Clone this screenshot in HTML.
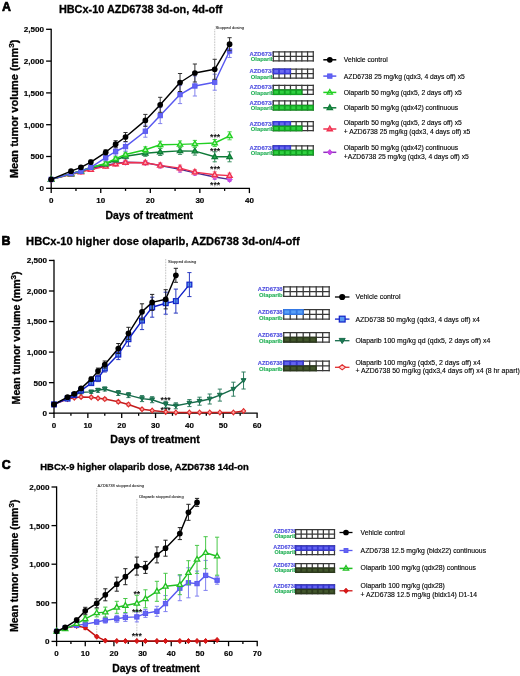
<!DOCTYPE html>
<html lang="en"><head><meta charset="utf-8"><title>Figure</title>
<style>html,body{margin:0;padding:0;background:#fff;}svg{display:block;filter:blur(0.4px);}text{font-family:'Liberation Sans', Arial, sans-serif;}</style>
</head><body>
<svg width="520" height="676" viewBox="0 0 520 676">
<rect width="520" height="676" fill="#fff"/>
<g id="panelA">
<text x="2" y="11.2" font-size="12.4" font-weight="bold" text-anchor="start" fill="#000" stroke="#000" stroke-width="0.7" stroke-linejoin="round" >A</text>
<text x="58.9" y="12.5" font-size="10.9" font-weight="bold" text-anchor="start" fill="#000" stroke="#000" stroke-width="0.3" stroke-linejoin="round" >HBCx-10 AZD6738 3d-on, 4d-off</text>
<line x1="51.2" y1="28.7" x2="51.2" y2="188.9" stroke="#000" stroke-width="1.3" />
<line x1="50.6" y1="188.3" x2="250" y2="188.3" stroke="#000" stroke-width="1.3" />
<line x1="51.2" y1="188.3" x2="51.2" y2="193.1" stroke="#000" stroke-width="1.3" />
<text x="51.2" y="203" font-size="8" font-weight="bold" text-anchor="middle" fill="#000" stroke="#000" stroke-width="0.15" stroke-linejoin="round" >0</text>
<line x1="100.75" y1="188.3" x2="100.75" y2="193.1" stroke="#000" stroke-width="1.3" />
<text x="100.75" y="203" font-size="8" font-weight="bold" text-anchor="middle" fill="#000" stroke="#000" stroke-width="0.15" stroke-linejoin="round" >10</text>
<line x1="150.3" y1="188.3" x2="150.3" y2="193.1" stroke="#000" stroke-width="1.3" />
<text x="150.3" y="203" font-size="8" font-weight="bold" text-anchor="middle" fill="#000" stroke="#000" stroke-width="0.15" stroke-linejoin="round" >20</text>
<line x1="199.85" y1="188.3" x2="199.85" y2="193.1" stroke="#000" stroke-width="1.3" />
<text x="199.85" y="203" font-size="8" font-weight="bold" text-anchor="middle" fill="#000" stroke="#000" stroke-width="0.15" stroke-linejoin="round" >30</text>
<line x1="249.4" y1="188.3" x2="249.4" y2="193.1" stroke="#000" stroke-width="1.3" />
<text x="249.4" y="203" font-size="8" font-weight="bold" text-anchor="middle" fill="#000" stroke="#000" stroke-width="0.15" stroke-linejoin="round" >40</text>
<line x1="75.97" y1="188.3" x2="75.97" y2="190.9" stroke="#000" stroke-width="1.3" />
<line x1="125.53" y1="188.3" x2="125.53" y2="190.9" stroke="#000" stroke-width="1.3" />
<line x1="175.07" y1="188.3" x2="175.07" y2="190.9" stroke="#000" stroke-width="1.3" />
<line x1="224.62" y1="188.3" x2="224.62" y2="190.9" stroke="#000" stroke-width="1.3" />
<line x1="46.1" y1="188.3" x2="51.2" y2="188.3" stroke="#000" stroke-width="1.3" />
<text x="44.1" y="191.2" font-size="8.1" font-weight="bold" text-anchor="end" fill="#000" stroke="#000" stroke-width="0.15" stroke-linejoin="round" >0</text>
<line x1="46.1" y1="156.5" x2="51.2" y2="156.5" stroke="#000" stroke-width="1.3" />
<text x="44.1" y="159.4" font-size="8.1" font-weight="bold" text-anchor="end" fill="#000" stroke="#000" stroke-width="0.15" stroke-linejoin="round" >500</text>
<line x1="46.1" y1="124.7" x2="51.2" y2="124.7" stroke="#000" stroke-width="1.3" />
<text x="44.1" y="127.6" font-size="8.1" font-weight="bold" text-anchor="end" fill="#000" stroke="#000" stroke-width="0.15" stroke-linejoin="round" >1,000</text>
<line x1="46.1" y1="92.9" x2="51.2" y2="92.9" stroke="#000" stroke-width="1.3" />
<text x="44.1" y="95.8" font-size="8.1" font-weight="bold" text-anchor="end" fill="#000" stroke="#000" stroke-width="0.15" stroke-linejoin="round" >1,500</text>
<line x1="46.1" y1="61.1" x2="51.2" y2="61.1" stroke="#000" stroke-width="1.3" />
<text x="44.1" y="64" font-size="8.1" font-weight="bold" text-anchor="end" fill="#000" stroke="#000" stroke-width="0.15" stroke-linejoin="round" >2,000</text>
<line x1="46.1" y1="29.3" x2="51.2" y2="29.3" stroke="#000" stroke-width="1.3" />
<text x="44.1" y="32.2" font-size="8.1" font-weight="bold" text-anchor="end" fill="#000" stroke="#000" stroke-width="0.15" stroke-linejoin="round" >2,500</text>
<text x="149.3" y="218.9" font-size="10.36" font-weight="bold" text-anchor="middle" fill="#000" stroke="#000" stroke-width="0.3" stroke-linejoin="round" >Days of treatment</text>
<text x="18.2" y="108.8" font-size="10.4" font-weight="bold" text-anchor="middle" fill="#000" textLength="138.5" lengthAdjust="spacingAndGlyphs" transform="rotate(-90 18.2 108.8)" stroke="#000" stroke-width="0.3" stroke-linejoin="round" >Mean tumor volume (mm<tspan dy="-4.6" font-size="7.8">3</tspan><tspan dy="4.6">)</tspan></text>
<line x1="214.72" y1="29.5" x2="214.72" y2="188.3" stroke="#707070" stroke-width="0.6" stroke-dasharray="0.7 0.9"/>
<text x="215.6" y="28.6" font-size="4.3" font-weight="normal" text-anchor="start" fill="#333" textLength="28.4" lengthAdjust="spacingAndGlyphs" stroke="#333" stroke-width="0.12" stroke-linejoin="round" >Stopped dosing</text>
<line x1="71.02" y1="173" x2="71.02" y2="175" stroke="#d090e8" stroke-width="1" />
<line x1="68.92" y1="173" x2="73.12" y2="173" stroke="#d090e8" stroke-width="1" />
<line x1="68.92" y1="175" x2="73.12" y2="175" stroke="#d090e8" stroke-width="1" />
<line x1="80.93" y1="170.5" x2="80.93" y2="172.5" stroke="#d090e8" stroke-width="1" />
<line x1="78.83" y1="170.5" x2="83.03" y2="170.5" stroke="#d090e8" stroke-width="1" />
<line x1="78.83" y1="172.5" x2="83.03" y2="172.5" stroke="#d090e8" stroke-width="1" />
<line x1="90.84" y1="167" x2="90.84" y2="170" stroke="#d090e8" stroke-width="1" />
<line x1="88.74" y1="167" x2="92.94" y2="167" stroke="#d090e8" stroke-width="1" />
<line x1="88.74" y1="170" x2="92.94" y2="170" stroke="#d090e8" stroke-width="1" />
<line x1="105.71" y1="164" x2="105.71" y2="167" stroke="#d090e8" stroke-width="1" />
<line x1="103.61" y1="164" x2="107.81" y2="164" stroke="#d090e8" stroke-width="1" />
<line x1="103.61" y1="167" x2="107.81" y2="167" stroke="#d090e8" stroke-width="1" />
<line x1="115.62" y1="161.5" x2="115.62" y2="165.5" stroke="#d090e8" stroke-width="1" />
<line x1="113.52" y1="161.5" x2="117.72" y2="161.5" stroke="#d090e8" stroke-width="1" />
<line x1="113.52" y1="165.5" x2="117.72" y2="165.5" stroke="#d090e8" stroke-width="1" />
<line x1="125.53" y1="160.3" x2="125.53" y2="164.3" stroke="#d090e8" stroke-width="1" />
<line x1="123.43" y1="160.3" x2="127.62" y2="160.3" stroke="#d090e8" stroke-width="1" />
<line x1="123.43" y1="164.3" x2="127.62" y2="164.3" stroke="#d090e8" stroke-width="1" />
<line x1="145.34" y1="160.7" x2="145.34" y2="164.7" stroke="#d090e8" stroke-width="1" />
<line x1="143.25" y1="160.7" x2="147.44" y2="160.7" stroke="#d090e8" stroke-width="1" />
<line x1="143.25" y1="164.7" x2="147.44" y2="164.7" stroke="#d090e8" stroke-width="1" />
<line x1="160.21" y1="163.1" x2="160.21" y2="168.1" stroke="#d090e8" stroke-width="1" />
<line x1="158.11" y1="163.1" x2="162.31" y2="163.1" stroke="#d090e8" stroke-width="1" />
<line x1="158.11" y1="168.1" x2="162.31" y2="168.1" stroke="#d090e8" stroke-width="1" />
<line x1="180.03" y1="166.4" x2="180.03" y2="172.4" stroke="#d090e8" stroke-width="1" />
<line x1="177.93" y1="166.4" x2="182.13" y2="166.4" stroke="#d090e8" stroke-width="1" />
<line x1="177.93" y1="172.4" x2="182.13" y2="172.4" stroke="#d090e8" stroke-width="1" />
<line x1="194.89" y1="170.4" x2="194.89" y2="175.4" stroke="#d090e8" stroke-width="1" />
<line x1="192.79" y1="170.4" x2="196.99" y2="170.4" stroke="#d090e8" stroke-width="1" />
<line x1="192.79" y1="175.4" x2="196.99" y2="175.4" stroke="#d090e8" stroke-width="1" />
<line x1="214.72" y1="174.5" x2="214.72" y2="179.5" stroke="#d090e8" stroke-width="1" />
<line x1="212.62" y1="174.5" x2="216.82" y2="174.5" stroke="#d090e8" stroke-width="1" />
<line x1="212.62" y1="179.5" x2="216.82" y2="179.5" stroke="#d090e8" stroke-width="1" />
<line x1="229.58" y1="177.4" x2="229.58" y2="181.4" stroke="#d090e8" stroke-width="1" />
<line x1="227.48" y1="177.4" x2="231.68" y2="177.4" stroke="#d090e8" stroke-width="1" />
<line x1="227.48" y1="181.4" x2="231.68" y2="181.4" stroke="#d090e8" stroke-width="1" />
<polyline points="51.2,179.4 71.02,174 80.93,171.5 90.84,168.5 105.71,165.5 115.62,163.5 125.53,162.3 145.34,162.7 160.21,165.6 180.03,169.4 194.89,172.9 214.72,177 229.58,179.4" fill="none" stroke="#4a2a90" stroke-width="1.45" stroke-linejoin="round"/>
<polygon points="51.2,176.4 53.8,179.4 51.2,182.4 48.6,179.4" fill="#c848e8" stroke="#c040e0" stroke-width="1"/>
<polygon points="71.02,171 73.62,174 71.02,177 68.42,174" fill="#c848e8" stroke="#c040e0" stroke-width="1"/>
<polygon points="80.93,168.5 83.53,171.5 80.93,174.5 78.33,171.5" fill="#c848e8" stroke="#c040e0" stroke-width="1"/>
<polygon points="90.84,165.5 93.44,168.5 90.84,171.5 88.24,168.5" fill="#c848e8" stroke="#c040e0" stroke-width="1"/>
<polygon points="105.71,162.5 108.31,165.5 105.71,168.5 103.11,165.5" fill="#c848e8" stroke="#c040e0" stroke-width="1"/>
<polygon points="115.62,160.5 118.22,163.5 115.62,166.5 113.02,163.5" fill="#c848e8" stroke="#c040e0" stroke-width="1"/>
<polygon points="125.53,159.3 128.12,162.3 125.53,165.3 122.93,162.3" fill="#c848e8" stroke="#c040e0" stroke-width="1"/>
<polygon points="145.34,159.7 147.94,162.7 145.34,165.7 142.75,162.7" fill="#c848e8" stroke="#c040e0" stroke-width="1"/>
<polygon points="160.21,162.6 162.81,165.6 160.21,168.6 157.61,165.6" fill="#c848e8" stroke="#c040e0" stroke-width="1"/>
<polygon points="180.03,166.4 182.63,169.4 180.03,172.4 177.43,169.4" fill="#c848e8" stroke="#c040e0" stroke-width="1"/>
<polygon points="194.89,169.9 197.49,172.9 194.89,175.9 192.29,172.9" fill="#c848e8" stroke="#c040e0" stroke-width="1"/>
<polygon points="214.72,174 217.32,177 214.72,180 212.12,177" fill="#c848e8" stroke="#c040e0" stroke-width="1"/>
<polygon points="229.58,176.4 232.18,179.4 229.58,182.4 226.98,179.4" fill="#c848e8" stroke="#c040e0" stroke-width="1"/>
<line x1="71.02" y1="173.5" x2="71.02" y2="175.5" stroke="#f08898" stroke-width="1" />
<line x1="68.92" y1="173.5" x2="73.12" y2="173.5" stroke="#f08898" stroke-width="1" />
<line x1="68.92" y1="175.5" x2="73.12" y2="175.5" stroke="#f08898" stroke-width="1" />
<line x1="80.93" y1="171" x2="80.93" y2="173" stroke="#f08898" stroke-width="1" />
<line x1="78.83" y1="171" x2="83.03" y2="171" stroke="#f08898" stroke-width="1" />
<line x1="78.83" y1="173" x2="83.03" y2="173" stroke="#f08898" stroke-width="1" />
<line x1="90.84" y1="168.1" x2="90.84" y2="171.1" stroke="#f08898" stroke-width="1" />
<line x1="88.74" y1="168.1" x2="92.94" y2="168.1" stroke="#f08898" stroke-width="1" />
<line x1="88.74" y1="171.1" x2="92.94" y2="171.1" stroke="#f08898" stroke-width="1" />
<line x1="105.71" y1="164.8" x2="105.71" y2="167.8" stroke="#f08898" stroke-width="1" />
<line x1="103.61" y1="164.8" x2="107.81" y2="164.8" stroke="#f08898" stroke-width="1" />
<line x1="103.61" y1="167.8" x2="107.81" y2="167.8" stroke="#f08898" stroke-width="1" />
<line x1="115.62" y1="162" x2="115.62" y2="166" stroke="#f08898" stroke-width="1" />
<line x1="113.52" y1="162" x2="117.72" y2="162" stroke="#f08898" stroke-width="1" />
<line x1="113.52" y1="166" x2="117.72" y2="166" stroke="#f08898" stroke-width="1" />
<line x1="125.53" y1="160.5" x2="125.53" y2="164.5" stroke="#f08898" stroke-width="1" />
<line x1="123.43" y1="160.5" x2="127.62" y2="160.5" stroke="#f08898" stroke-width="1" />
<line x1="123.43" y1="164.5" x2="127.62" y2="164.5" stroke="#f08898" stroke-width="1" />
<line x1="145.34" y1="160.7" x2="145.34" y2="164.7" stroke="#f08898" stroke-width="1" />
<line x1="143.25" y1="160.7" x2="147.44" y2="160.7" stroke="#f08898" stroke-width="1" />
<line x1="143.25" y1="164.7" x2="147.44" y2="164.7" stroke="#f08898" stroke-width="1" />
<line x1="160.21" y1="162.9" x2="160.21" y2="167.9" stroke="#f08898" stroke-width="1" />
<line x1="158.11" y1="162.9" x2="162.31" y2="162.9" stroke="#f08898" stroke-width="1" />
<line x1="158.11" y1="167.9" x2="162.31" y2="167.9" stroke="#f08898" stroke-width="1" />
<line x1="180.03" y1="165.1" x2="180.03" y2="171.1" stroke="#f08898" stroke-width="1" />
<line x1="177.93" y1="165.1" x2="182.13" y2="165.1" stroke="#f08898" stroke-width="1" />
<line x1="177.93" y1="171.1" x2="182.13" y2="171.1" stroke="#f08898" stroke-width="1" />
<line x1="194.89" y1="169.6" x2="194.89" y2="174.6" stroke="#f08898" stroke-width="1" />
<line x1="192.79" y1="169.6" x2="196.99" y2="169.6" stroke="#f08898" stroke-width="1" />
<line x1="192.79" y1="174.6" x2="196.99" y2="174.6" stroke="#f08898" stroke-width="1" />
<line x1="214.72" y1="171.8" x2="214.72" y2="177.8" stroke="#f08898" stroke-width="1" />
<line x1="212.62" y1="171.8" x2="216.82" y2="171.8" stroke="#f08898" stroke-width="1" />
<line x1="212.62" y1="177.8" x2="216.82" y2="177.8" stroke="#f08898" stroke-width="1" />
<line x1="229.58" y1="173.1" x2="229.58" y2="178.1" stroke="#f08898" stroke-width="1" />
<line x1="227.48" y1="173.1" x2="231.68" y2="173.1" stroke="#f08898" stroke-width="1" />
<line x1="227.48" y1="178.1" x2="231.68" y2="178.1" stroke="#f08898" stroke-width="1" />
<polyline points="51.2,179.4 71.02,174.5 80.93,172 90.84,169.6 105.71,166.3 115.62,164 125.53,162.5 145.34,162.7 160.21,165.4 180.03,168.1 194.89,172.1 214.72,174.8 229.58,175.6" fill="none" stroke="#f03050" stroke-width="1.45" stroke-linejoin="round"/>
<polygon points="51.2,176.52 53.84,181.16 48.56,181.16" fill="#fbb0b8" stroke="#f03050" stroke-width="1.35" stroke-linejoin="miter"/>
<polygon points="71.02,171.62 73.66,176.26 68.38,176.26" fill="#fbb0b8" stroke="#f03050" stroke-width="1.35" stroke-linejoin="miter"/>
<polygon points="80.93,169.12 83.57,173.76 78.29,173.76" fill="#fbb0b8" stroke="#f03050" stroke-width="1.35" stroke-linejoin="miter"/>
<polygon points="90.84,166.72 93.48,171.36 88.2,171.36" fill="#fbb0b8" stroke="#f03050" stroke-width="1.35" stroke-linejoin="miter"/>
<polygon points="105.71,163.42 108.35,168.06 103.07,168.06" fill="#fbb0b8" stroke="#f03050" stroke-width="1.35" stroke-linejoin="miter"/>
<polygon points="115.62,161.12 118.26,165.76 112.98,165.76" fill="#fbb0b8" stroke="#f03050" stroke-width="1.35" stroke-linejoin="miter"/>
<polygon points="125.53,159.62 128.16,164.26 122.89,164.26" fill="#fbb0b8" stroke="#f03050" stroke-width="1.35" stroke-linejoin="miter"/>
<polygon points="145.34,159.82 147.98,164.46 142.71,164.46" fill="#fbb0b8" stroke="#f03050" stroke-width="1.35" stroke-linejoin="miter"/>
<polygon points="160.21,162.52 162.85,167.16 157.57,167.16" fill="#fbb0b8" stroke="#f03050" stroke-width="1.35" stroke-linejoin="miter"/>
<polygon points="180.03,165.22 182.67,169.86 177.39,169.86" fill="#fbb0b8" stroke="#f03050" stroke-width="1.35" stroke-linejoin="miter"/>
<polygon points="194.89,169.22 197.53,173.86 192.25,173.86" fill="#fbb0b8" stroke="#f03050" stroke-width="1.35" stroke-linejoin="miter"/>
<polygon points="214.72,171.92 217.36,176.56 212.08,176.56" fill="#fbb0b8" stroke="#f03050" stroke-width="1.35" stroke-linejoin="miter"/>
<polygon points="229.58,172.72 232.22,177.36 226.94,177.36" fill="#fbb0b8" stroke="#f03050" stroke-width="1.35" stroke-linejoin="miter"/>
<line x1="71.02" y1="172" x2="71.02" y2="175" stroke="#3a9060" stroke-width="1" />
<line x1="68.92" y1="172" x2="73.12" y2="172" stroke="#3a9060" stroke-width="1" />
<line x1="68.92" y1="175" x2="73.12" y2="175" stroke="#3a9060" stroke-width="1" />
<line x1="80.93" y1="169.5" x2="80.93" y2="172.5" stroke="#3a9060" stroke-width="1" />
<line x1="78.83" y1="169.5" x2="83.03" y2="169.5" stroke="#3a9060" stroke-width="1" />
<line x1="78.83" y1="172.5" x2="83.03" y2="172.5" stroke="#3a9060" stroke-width="1" />
<line x1="90.84" y1="166" x2="90.84" y2="169" stroke="#3a9060" stroke-width="1" />
<line x1="88.74" y1="166" x2="92.94" y2="166" stroke="#3a9060" stroke-width="1" />
<line x1="88.74" y1="169" x2="92.94" y2="169" stroke="#3a9060" stroke-width="1" />
<line x1="105.71" y1="162" x2="105.71" y2="166" stroke="#3a9060" stroke-width="1" />
<line x1="103.61" y1="162" x2="107.81" y2="162" stroke="#3a9060" stroke-width="1" />
<line x1="103.61" y1="166" x2="107.81" y2="166" stroke="#3a9060" stroke-width="1" />
<line x1="115.62" y1="158" x2="115.62" y2="162" stroke="#3a9060" stroke-width="1" />
<line x1="113.52" y1="158" x2="117.72" y2="158" stroke="#3a9060" stroke-width="1" />
<line x1="113.52" y1="162" x2="117.72" y2="162" stroke="#3a9060" stroke-width="1" />
<line x1="125.53" y1="153.8" x2="125.53" y2="158.8" stroke="#3a9060" stroke-width="1" />
<line x1="123.43" y1="153.8" x2="127.62" y2="153.8" stroke="#3a9060" stroke-width="1" />
<line x1="123.43" y1="158.8" x2="127.62" y2="158.8" stroke="#3a9060" stroke-width="1" />
<line x1="145.34" y1="150.3" x2="145.34" y2="156.3" stroke="#3a9060" stroke-width="1" />
<line x1="143.25" y1="150.3" x2="147.44" y2="150.3" stroke="#3a9060" stroke-width="1" />
<line x1="143.25" y1="156.3" x2="147.44" y2="156.3" stroke="#3a9060" stroke-width="1" />
<line x1="160.21" y1="148.5" x2="160.21" y2="155.5" stroke="#3a9060" stroke-width="1" />
<line x1="158.11" y1="148.5" x2="162.31" y2="148.5" stroke="#3a9060" stroke-width="1" />
<line x1="158.11" y1="155.5" x2="162.31" y2="155.5" stroke="#3a9060" stroke-width="1" />
<line x1="180.03" y1="147.4" x2="180.03" y2="154.4" stroke="#3a9060" stroke-width="1" />
<line x1="177.93" y1="147.4" x2="182.13" y2="147.4" stroke="#3a9060" stroke-width="1" />
<line x1="177.93" y1="154.4" x2="182.13" y2="154.4" stroke="#3a9060" stroke-width="1" />
<line x1="194.89" y1="147.1" x2="194.89" y2="155.1" stroke="#3a9060" stroke-width="1" />
<line x1="192.79" y1="147.1" x2="196.99" y2="147.1" stroke="#3a9060" stroke-width="1" />
<line x1="192.79" y1="155.1" x2="196.99" y2="155.1" stroke="#3a9060" stroke-width="1" />
<line x1="214.72" y1="151.8" x2="214.72" y2="161.8" stroke="#3a9060" stroke-width="1" />
<line x1="212.62" y1="151.8" x2="216.82" y2="151.8" stroke="#3a9060" stroke-width="1" />
<line x1="212.62" y1="161.8" x2="216.82" y2="161.8" stroke="#3a9060" stroke-width="1" />
<line x1="229.58" y1="151.8" x2="229.58" y2="161.8" stroke="#3a9060" stroke-width="1" />
<line x1="227.48" y1="151.8" x2="231.68" y2="151.8" stroke="#3a9060" stroke-width="1" />
<line x1="227.48" y1="161.8" x2="231.68" y2="161.8" stroke="#3a9060" stroke-width="1" />
<polyline points="51.2,179.4 71.02,173.5 80.93,171 90.84,167.5 105.71,164 115.62,160 125.53,156.3 145.34,153.3 160.21,152 180.03,150.9 194.89,151.1 214.72,156.8 229.58,156.8" fill="none" stroke="#0f7a38" stroke-width="1.45" stroke-linejoin="round"/>
<polygon points="51.2,176.52 53.84,181.16 48.56,181.16" fill="#20a848" stroke="#0f7a38" stroke-width="1.35" stroke-linejoin="miter"/>
<polygon points="71.02,170.62 73.66,175.26 68.38,175.26" fill="#20a848" stroke="#0f7a38" stroke-width="1.35" stroke-linejoin="miter"/>
<polygon points="80.93,168.12 83.57,172.76 78.29,172.76" fill="#20a848" stroke="#0f7a38" stroke-width="1.35" stroke-linejoin="miter"/>
<polygon points="90.84,164.62 93.48,169.26 88.2,169.26" fill="#20a848" stroke="#0f7a38" stroke-width="1.35" stroke-linejoin="miter"/>
<polygon points="105.71,161.12 108.35,165.76 103.07,165.76" fill="#20a848" stroke="#0f7a38" stroke-width="1.35" stroke-linejoin="miter"/>
<polygon points="115.62,157.12 118.26,161.76 112.98,161.76" fill="#20a848" stroke="#0f7a38" stroke-width="1.35" stroke-linejoin="miter"/>
<polygon points="125.53,153.42 128.16,158.06 122.89,158.06" fill="#20a848" stroke="#0f7a38" stroke-width="1.35" stroke-linejoin="miter"/>
<polygon points="145.34,150.42 147.98,155.06 142.71,155.06" fill="#20a848" stroke="#0f7a38" stroke-width="1.35" stroke-linejoin="miter"/>
<polygon points="160.21,149.12 162.85,153.76 157.57,153.76" fill="#20a848" stroke="#0f7a38" stroke-width="1.35" stroke-linejoin="miter"/>
<polygon points="180.03,148.02 182.67,152.66 177.39,152.66" fill="#20a848" stroke="#0f7a38" stroke-width="1.35" stroke-linejoin="miter"/>
<polygon points="194.89,148.22 197.53,152.86 192.25,152.86" fill="#20a848" stroke="#0f7a38" stroke-width="1.35" stroke-linejoin="miter"/>
<polygon points="214.72,153.92 217.36,158.56 212.08,158.56" fill="#20a848" stroke="#0f7a38" stroke-width="1.35" stroke-linejoin="miter"/>
<polygon points="229.58,153.92 232.22,158.56 226.94,158.56" fill="#20a848" stroke="#0f7a38" stroke-width="1.35" stroke-linejoin="miter"/>
<line x1="71.02" y1="172.5" x2="71.02" y2="175.5" stroke="#50d450" stroke-width="1" />
<line x1="68.92" y1="172.5" x2="73.12" y2="172.5" stroke="#50d450" stroke-width="1" />
<line x1="68.92" y1="175.5" x2="73.12" y2="175.5" stroke="#50d450" stroke-width="1" />
<line x1="80.93" y1="169.5" x2="80.93" y2="172.5" stroke="#50d450" stroke-width="1" />
<line x1="78.83" y1="169.5" x2="83.03" y2="169.5" stroke="#50d450" stroke-width="1" />
<line x1="78.83" y1="172.5" x2="83.03" y2="172.5" stroke="#50d450" stroke-width="1" />
<line x1="90.84" y1="166" x2="90.84" y2="169" stroke="#50d450" stroke-width="1" />
<line x1="88.74" y1="166" x2="92.94" y2="166" stroke="#50d450" stroke-width="1" />
<line x1="88.74" y1="169" x2="92.94" y2="169" stroke="#50d450" stroke-width="1" />
<line x1="105.71" y1="161.5" x2="105.71" y2="165.5" stroke="#50d450" stroke-width="1" />
<line x1="103.61" y1="161.5" x2="107.81" y2="161.5" stroke="#50d450" stroke-width="1" />
<line x1="103.61" y1="165.5" x2="107.81" y2="165.5" stroke="#50d450" stroke-width="1" />
<line x1="115.62" y1="156.7" x2="115.62" y2="160.7" stroke="#50d450" stroke-width="1" />
<line x1="113.52" y1="156.7" x2="117.72" y2="156.7" stroke="#50d450" stroke-width="1" />
<line x1="113.52" y1="160.7" x2="117.72" y2="160.7" stroke="#50d450" stroke-width="1" />
<line x1="125.53" y1="152" x2="125.53" y2="157" stroke="#50d450" stroke-width="1" />
<line x1="123.43" y1="152" x2="127.62" y2="152" stroke="#50d450" stroke-width="1" />
<line x1="123.43" y1="157" x2="127.62" y2="157" stroke="#50d450" stroke-width="1" />
<line x1="145.34" y1="146.8" x2="145.34" y2="152.8" stroke="#50d450" stroke-width="1" />
<line x1="143.25" y1="146.8" x2="147.44" y2="146.8" stroke="#50d450" stroke-width="1" />
<line x1="143.25" y1="152.8" x2="147.44" y2="152.8" stroke="#50d450" stroke-width="1" />
<line x1="160.21" y1="141.2" x2="160.21" y2="148.2" stroke="#50d450" stroke-width="1" />
<line x1="158.11" y1="141.2" x2="162.31" y2="141.2" stroke="#50d450" stroke-width="1" />
<line x1="158.11" y1="148.2" x2="162.31" y2="148.2" stroke="#50d450" stroke-width="1" />
<line x1="180.03" y1="140.9" x2="180.03" y2="147.9" stroke="#50d450" stroke-width="1" />
<line x1="177.93" y1="140.9" x2="182.13" y2="140.9" stroke="#50d450" stroke-width="1" />
<line x1="177.93" y1="147.9" x2="182.13" y2="147.9" stroke="#50d450" stroke-width="1" />
<line x1="194.89" y1="140.4" x2="194.89" y2="147.4" stroke="#50d450" stroke-width="1" />
<line x1="192.79" y1="140.4" x2="196.99" y2="140.4" stroke="#50d450" stroke-width="1" />
<line x1="192.79" y1="147.4" x2="196.99" y2="147.4" stroke="#50d450" stroke-width="1" />
<line x1="214.72" y1="139.5" x2="214.72" y2="146.5" stroke="#50d450" stroke-width="1" />
<line x1="212.62" y1="139.5" x2="216.82" y2="139.5" stroke="#50d450" stroke-width="1" />
<line x1="212.62" y1="146.5" x2="216.82" y2="146.5" stroke="#50d450" stroke-width="1" />
<line x1="229.58" y1="131.8" x2="229.58" y2="139.8" stroke="#50d450" stroke-width="1" />
<line x1="227.48" y1="131.8" x2="231.68" y2="131.8" stroke="#50d450" stroke-width="1" />
<line x1="227.48" y1="139.8" x2="231.68" y2="139.8" stroke="#50d450" stroke-width="1" />
<polyline points="51.2,179.4 71.02,174 80.93,171 90.84,167.5 105.71,163.5 115.62,158.7 125.53,154.5 145.34,149.8 160.21,144.7 180.03,144.4 194.89,143.9 214.72,143 229.58,135.8" fill="none" stroke="#22d022" stroke-width="1.45" stroke-linejoin="round"/>
<polygon points="51.2,176.52 53.84,181.16 48.56,181.16" fill="#b8f4b0" stroke="#22d022" stroke-width="1.35" stroke-linejoin="miter"/>
<polygon points="71.02,171.12 73.66,175.76 68.38,175.76" fill="#b8f4b0" stroke="#22d022" stroke-width="1.35" stroke-linejoin="miter"/>
<polygon points="80.93,168.12 83.57,172.76 78.29,172.76" fill="#b8f4b0" stroke="#22d022" stroke-width="1.35" stroke-linejoin="miter"/>
<polygon points="90.84,164.62 93.48,169.26 88.2,169.26" fill="#b8f4b0" stroke="#22d022" stroke-width="1.35" stroke-linejoin="miter"/>
<polygon points="105.71,160.62 108.35,165.26 103.07,165.26" fill="#b8f4b0" stroke="#22d022" stroke-width="1.35" stroke-linejoin="miter"/>
<polygon points="115.62,155.82 118.26,160.46 112.98,160.46" fill="#b8f4b0" stroke="#22d022" stroke-width="1.35" stroke-linejoin="miter"/>
<polygon points="125.53,151.62 128.16,156.26 122.89,156.26" fill="#b8f4b0" stroke="#22d022" stroke-width="1.35" stroke-linejoin="miter"/>
<polygon points="145.34,146.92 147.98,151.56 142.71,151.56" fill="#b8f4b0" stroke="#22d022" stroke-width="1.35" stroke-linejoin="miter"/>
<polygon points="160.21,141.82 162.85,146.46 157.57,146.46" fill="#b8f4b0" stroke="#22d022" stroke-width="1.35" stroke-linejoin="miter"/>
<polygon points="180.03,141.52 182.67,146.16 177.39,146.16" fill="#b8f4b0" stroke="#22d022" stroke-width="1.35" stroke-linejoin="miter"/>
<polygon points="194.89,141.02 197.53,145.66 192.25,145.66" fill="#b8f4b0" stroke="#22d022" stroke-width="1.35" stroke-linejoin="miter"/>
<polygon points="214.72,140.12 217.36,144.76 212.08,144.76" fill="#b8f4b0" stroke="#22d022" stroke-width="1.35" stroke-linejoin="miter"/>
<polygon points="229.58,132.92 232.22,137.56 226.94,137.56" fill="#b8f4b0" stroke="#22d022" stroke-width="1.35" stroke-linejoin="miter"/>
<line x1="71.02" y1="172.2" x2="71.02" y2="175.2" stroke="#8282ee" stroke-width="1" />
<line x1="68.92" y1="172.2" x2="73.12" y2="172.2" stroke="#8282ee" stroke-width="1" />
<line x1="68.92" y1="175.2" x2="73.12" y2="175.2" stroke="#8282ee" stroke-width="1" />
<line x1="80.93" y1="169.7" x2="80.93" y2="172.7" stroke="#8282ee" stroke-width="1" />
<line x1="78.83" y1="169.7" x2="83.03" y2="169.7" stroke="#8282ee" stroke-width="1" />
<line x1="78.83" y1="172.7" x2="83.03" y2="172.7" stroke="#8282ee" stroke-width="1" />
<line x1="90.84" y1="165.3" x2="90.84" y2="169.3" stroke="#8282ee" stroke-width="1" />
<line x1="88.74" y1="165.3" x2="92.94" y2="165.3" stroke="#8282ee" stroke-width="1" />
<line x1="88.74" y1="169.3" x2="92.94" y2="169.3" stroke="#8282ee" stroke-width="1" />
<line x1="105.71" y1="154.7" x2="105.71" y2="160.7" stroke="#8282ee" stroke-width="1" />
<line x1="103.61" y1="154.7" x2="107.81" y2="154.7" stroke="#8282ee" stroke-width="1" />
<line x1="103.61" y1="160.7" x2="107.81" y2="160.7" stroke="#8282ee" stroke-width="1" />
<line x1="115.62" y1="148" x2="115.62" y2="155" stroke="#8282ee" stroke-width="1" />
<line x1="113.52" y1="148" x2="117.72" y2="148" stroke="#8282ee" stroke-width="1" />
<line x1="113.52" y1="155" x2="117.72" y2="155" stroke="#8282ee" stroke-width="1" />
<line x1="125.53" y1="142.1" x2="125.53" y2="151.1" stroke="#8282ee" stroke-width="1" />
<line x1="123.43" y1="142.1" x2="127.62" y2="142.1" stroke="#8282ee" stroke-width="1" />
<line x1="123.43" y1="151.1" x2="127.62" y2="151.1" stroke="#8282ee" stroke-width="1" />
<line x1="145.34" y1="125.2" x2="145.34" y2="137.2" stroke="#8282ee" stroke-width="1" />
<line x1="143.25" y1="125.2" x2="147.44" y2="125.2" stroke="#8282ee" stroke-width="1" />
<line x1="143.25" y1="137.2" x2="147.44" y2="137.2" stroke="#8282ee" stroke-width="1" />
<line x1="160.21" y1="107.6" x2="160.21" y2="123.6" stroke="#8282ee" stroke-width="1" />
<line x1="158.11" y1="107.6" x2="162.31" y2="107.6" stroke="#8282ee" stroke-width="1" />
<line x1="158.11" y1="123.6" x2="162.31" y2="123.6" stroke="#8282ee" stroke-width="1" />
<line x1="180.03" y1="85.6" x2="180.03" y2="103.6" stroke="#8282ee" stroke-width="1" />
<line x1="177.93" y1="85.6" x2="182.13" y2="85.6" stroke="#8282ee" stroke-width="1" />
<line x1="177.93" y1="103.6" x2="182.13" y2="103.6" stroke="#8282ee" stroke-width="1" />
<line x1="194.89" y1="76" x2="194.89" y2="96" stroke="#8282ee" stroke-width="1" />
<line x1="192.79" y1="76" x2="196.99" y2="76" stroke="#8282ee" stroke-width="1" />
<line x1="192.79" y1="96" x2="196.99" y2="96" stroke="#8282ee" stroke-width="1" />
<line x1="214.72" y1="74.2" x2="214.72" y2="90.2" stroke="#8282ee" stroke-width="1" />
<line x1="212.62" y1="74.2" x2="216.82" y2="74.2" stroke="#8282ee" stroke-width="1" />
<line x1="212.62" y1="90.2" x2="216.82" y2="90.2" stroke="#8282ee" stroke-width="1" />
<line x1="229.58" y1="44.5" x2="229.58" y2="57.5" stroke="#8282ee" stroke-width="1" />
<line x1="227.48" y1="44.5" x2="231.68" y2="44.5" stroke="#8282ee" stroke-width="1" />
<line x1="227.48" y1="57.5" x2="231.68" y2="57.5" stroke="#8282ee" stroke-width="1" />
<polyline points="51.2,179.4 71.02,173.7 80.93,171.2 90.84,167.3 105.71,157.7 115.62,151.5 125.53,146.6 145.34,131.2 160.21,115.6 180.03,94.6 194.89,86 214.72,82.2 229.58,51" fill="none" stroke="#5858f0" stroke-width="1.45" stroke-linejoin="round"/>
<rect x="49.05" y="177.25" width="4.3" height="4.3" fill="#6464f4" stroke="#5858f0" stroke-width="1"/>
<rect x="68.87" y="171.55" width="4.3" height="4.3" fill="#6464f4" stroke="#5858f0" stroke-width="1"/>
<rect x="78.78" y="169.05" width="4.3" height="4.3" fill="#6464f4" stroke="#5858f0" stroke-width="1"/>
<rect x="88.69" y="165.15" width="4.3" height="4.3" fill="#6464f4" stroke="#5858f0" stroke-width="1"/>
<rect x="103.56" y="155.55" width="4.3" height="4.3" fill="#6464f4" stroke="#5858f0" stroke-width="1"/>
<rect x="113.47" y="149.35" width="4.3" height="4.3" fill="#6464f4" stroke="#5858f0" stroke-width="1"/>
<rect x="123.38" y="144.45" width="4.3" height="4.3" fill="#6464f4" stroke="#5858f0" stroke-width="1"/>
<rect x="143.19" y="129.05" width="4.3" height="4.3" fill="#6464f4" stroke="#5858f0" stroke-width="1"/>
<rect x="158.06" y="113.45" width="4.3" height="4.3" fill="#6464f4" stroke="#5858f0" stroke-width="1"/>
<rect x="177.88" y="92.45" width="4.3" height="4.3" fill="#6464f4" stroke="#5858f0" stroke-width="1"/>
<rect x="192.74" y="83.85" width="4.3" height="4.3" fill="#6464f4" stroke="#5858f0" stroke-width="1"/>
<rect x="212.57" y="80.05" width="4.3" height="4.3" fill="#6464f4" stroke="#5858f0" stroke-width="1"/>
<rect x="227.43" y="48.85" width="4.3" height="4.3" fill="#6464f4" stroke="#5858f0" stroke-width="1"/>
<line x1="71.02" y1="169.7" x2="71.02" y2="172.7" stroke="#333" stroke-width="1" />
<line x1="68.92" y1="169.7" x2="73.12" y2="169.7" stroke="#333" stroke-width="1" />
<line x1="68.92" y1="172.7" x2="73.12" y2="172.7" stroke="#333" stroke-width="1" />
<line x1="80.93" y1="165.8" x2="80.93" y2="168.8" stroke="#333" stroke-width="1" />
<line x1="78.83" y1="165.8" x2="83.03" y2="165.8" stroke="#333" stroke-width="1" />
<line x1="78.83" y1="168.8" x2="83.03" y2="168.8" stroke="#333" stroke-width="1" />
<line x1="90.84" y1="160.1" x2="90.84" y2="164.1" stroke="#333" stroke-width="1" />
<line x1="88.74" y1="160.1" x2="92.94" y2="160.1" stroke="#333" stroke-width="1" />
<line x1="88.74" y1="164.1" x2="92.94" y2="164.1" stroke="#333" stroke-width="1" />
<line x1="105.71" y1="149.8" x2="105.71" y2="154.8" stroke="#333" stroke-width="1" />
<line x1="103.61" y1="149.8" x2="107.81" y2="149.8" stroke="#333" stroke-width="1" />
<line x1="103.61" y1="154.8" x2="107.81" y2="154.8" stroke="#333" stroke-width="1" />
<line x1="115.62" y1="140.7" x2="115.62" y2="147.7" stroke="#333" stroke-width="1" />
<line x1="113.52" y1="140.7" x2="117.72" y2="140.7" stroke="#333" stroke-width="1" />
<line x1="113.52" y1="147.7" x2="117.72" y2="147.7" stroke="#333" stroke-width="1" />
<line x1="125.53" y1="132.5" x2="125.53" y2="141.5" stroke="#333" stroke-width="1" />
<line x1="123.43" y1="132.5" x2="127.62" y2="132.5" stroke="#333" stroke-width="1" />
<line x1="123.43" y1="141.5" x2="127.62" y2="141.5" stroke="#333" stroke-width="1" />
<line x1="145.34" y1="114.4" x2="145.34" y2="126.4" stroke="#333" stroke-width="1" />
<line x1="143.25" y1="114.4" x2="147.44" y2="114.4" stroke="#333" stroke-width="1" />
<line x1="143.25" y1="126.4" x2="147.44" y2="126.4" stroke="#333" stroke-width="1" />
<line x1="160.21" y1="97.3" x2="160.21" y2="112.3" stroke="#333" stroke-width="1" />
<line x1="158.11" y1="97.3" x2="162.31" y2="97.3" stroke="#333" stroke-width="1" />
<line x1="158.11" y1="112.3" x2="162.31" y2="112.3" stroke="#333" stroke-width="1" />
<line x1="180.03" y1="73.5" x2="180.03" y2="91.5" stroke="#333" stroke-width="1" />
<line x1="177.93" y1="73.5" x2="182.13" y2="73.5" stroke="#333" stroke-width="1" />
<line x1="177.93" y1="91.5" x2="182.13" y2="91.5" stroke="#333" stroke-width="1" />
<line x1="194.89" y1="64" x2="194.89" y2="82" stroke="#333" stroke-width="1" />
<line x1="192.79" y1="64" x2="196.99" y2="64" stroke="#333" stroke-width="1" />
<line x1="192.79" y1="82" x2="196.99" y2="82" stroke="#333" stroke-width="1" />
<line x1="214.72" y1="59.3" x2="214.72" y2="79.3" stroke="#333" stroke-width="1" />
<line x1="212.62" y1="59.3" x2="216.82" y2="59.3" stroke="#333" stroke-width="1" />
<line x1="212.62" y1="79.3" x2="216.82" y2="79.3" stroke="#333" stroke-width="1" />
<line x1="229.58" y1="37.7" x2="229.58" y2="50.7" stroke="#333" stroke-width="1" />
<line x1="227.48" y1="37.7" x2="231.68" y2="37.7" stroke="#333" stroke-width="1" />
<line x1="227.48" y1="50.7" x2="231.68" y2="50.7" stroke="#333" stroke-width="1" />
<polyline points="51.2,179.4 71.02,171.2 80.93,167.3 90.84,162.1 105.71,152.3 115.62,144.2 125.53,137 145.34,120.4 160.21,104.8 180.03,82.5 194.89,73 214.72,69.3 229.58,44.2" fill="none" stroke="#000" stroke-width="1.45" stroke-linejoin="round"/>
<circle cx="51.2" cy="179.4" r="2.85" fill="#000"/>
<circle cx="71.02" cy="171.2" r="2.85" fill="#000"/>
<circle cx="80.93" cy="167.3" r="2.85" fill="#000"/>
<circle cx="90.84" cy="162.1" r="2.85" fill="#000"/>
<circle cx="105.71" cy="152.3" r="2.85" fill="#000"/>
<circle cx="115.62" cy="144.2" r="2.85" fill="#000"/>
<circle cx="125.53" cy="137" r="2.85" fill="#000"/>
<circle cx="145.34" cy="120.4" r="2.85" fill="#000"/>
<circle cx="160.21" cy="104.8" r="2.85" fill="#000"/>
<circle cx="180.03" cy="82.5" r="2.85" fill="#000"/>
<circle cx="194.89" cy="73" r="2.85" fill="#000"/>
<circle cx="214.72" cy="69.3" r="2.85" fill="#000"/>
<circle cx="229.58" cy="44.2" r="2.85" fill="#000"/>
<text x="215.2" y="140.2" font-size="8.7" font-weight="bold" text-anchor="middle" fill="#111" >***</text>
<text x="215.2" y="153.6" font-size="8.7" font-weight="bold" text-anchor="middle" fill="#111" >***</text>
<text x="215.2" y="172" font-size="8.7" font-weight="bold" text-anchor="middle" fill="#111" >***</text>
<text x="215.2" y="187.8" font-size="8.7" font-weight="bold" text-anchor="middle" fill="#111" >***</text>
<text x="274.4" y="55.75" font-size="5.8" font-weight="bold" text-anchor="end" fill="#5252e0" stroke="#5252e0" stroke-width="0.15" stroke-linejoin="round" >AZD6738</text>
<text x="274.4" y="61.3" font-size="5.8" font-weight="bold" text-anchor="end" fill="#28b25a" stroke="#28b25a" stroke-width="0.15" stroke-linejoin="round" >Olaparib</text>
<rect x="272.7" y="51.2" width="41.2" height="10.3" fill="#fff"/>
<line x1="273.32" y1="51.2" x2="273.32" y2="61.5" stroke="#383838" stroke-width="1.25" />
<line x1="279.03" y1="51.2" x2="279.03" y2="61.5" stroke="#383838" stroke-width="1.25" />
<line x1="284.74" y1="51.2" x2="284.74" y2="61.5" stroke="#383838" stroke-width="1.25" />
<line x1="290.45" y1="51.2" x2="290.45" y2="61.5" stroke="#383838" stroke-width="1.25" />
<line x1="296.15" y1="51.2" x2="296.15" y2="61.5" stroke="#383838" stroke-width="1.25" />
<line x1="301.86" y1="51.2" x2="301.86" y2="61.5" stroke="#383838" stroke-width="1.25" />
<line x1="307.57" y1="51.2" x2="307.57" y2="61.5" stroke="#383838" stroke-width="1.25" />
<line x1="313.27" y1="51.2" x2="313.27" y2="61.5" stroke="#383838" stroke-width="1.25" />
<line x1="272.7" y1="51.83" x2="313.9" y2="51.83" stroke="#383838" stroke-width="1.25" />
<line x1="272.7" y1="56.35" x2="313.9" y2="56.35" stroke="#383838" stroke-width="1.25" />
<line x1="272.7" y1="60.88" x2="313.9" y2="60.88" stroke="#383838" stroke-width="1.25" />
<text x="274.4" y="73.05" font-size="5.8" font-weight="bold" text-anchor="end" fill="#5252e0" stroke="#5252e0" stroke-width="0.15" stroke-linejoin="round" >AZD6738</text>
<text x="274.4" y="78.6" font-size="5.8" font-weight="bold" text-anchor="end" fill="#28b25a" stroke="#28b25a" stroke-width="0.15" stroke-linejoin="round" >Olaparib</text>
<rect x="272.7" y="68.5" width="41.2" height="10.3" fill="#fff"/>
<line x1="273.32" y1="68.5" x2="273.32" y2="78.8" stroke="#383838" stroke-width="1.25" />
<line x1="279.03" y1="68.5" x2="279.03" y2="78.8" stroke="#383838" stroke-width="1.25" />
<line x1="284.74" y1="68.5" x2="284.74" y2="78.8" stroke="#383838" stroke-width="1.25" />
<line x1="290.45" y1="68.5" x2="290.45" y2="78.8" stroke="#383838" stroke-width="1.25" />
<line x1="296.15" y1="68.5" x2="296.15" y2="78.8" stroke="#383838" stroke-width="1.25" />
<line x1="301.86" y1="68.5" x2="301.86" y2="78.8" stroke="#383838" stroke-width="1.25" />
<line x1="307.57" y1="68.5" x2="307.57" y2="78.8" stroke="#383838" stroke-width="1.25" />
<line x1="313.27" y1="68.5" x2="313.27" y2="78.8" stroke="#383838" stroke-width="1.25" />
<line x1="272.7" y1="69.12" x2="313.9" y2="69.12" stroke="#383838" stroke-width="1.25" />
<line x1="272.7" y1="73.65" x2="313.9" y2="73.65" stroke="#383838" stroke-width="1.25" />
<line x1="272.7" y1="78.17" x2="313.9" y2="78.17" stroke="#383838" stroke-width="1.25" />
<rect x="272.7" y="68.5" width="18.37" height="5.78" fill="#3a3ad8"/>
<rect x="274.25" y="69.95" width="3.86" height="2.88" fill="#6a6af0"/>
<rect x="279.96" y="69.95" width="3.86" height="2.88" fill="#6a6af0"/>
<rect x="285.66" y="69.95" width="3.86" height="2.88" fill="#6a6af0"/>
<text x="274.4" y="89.35" font-size="5.8" font-weight="bold" text-anchor="end" fill="#5252e0" stroke="#5252e0" stroke-width="0.15" stroke-linejoin="round" >AZD6738</text>
<text x="274.4" y="94.9" font-size="5.8" font-weight="bold" text-anchor="end" fill="#28b25a" stroke="#28b25a" stroke-width="0.15" stroke-linejoin="round" >Olaparib</text>
<rect x="272.7" y="84.8" width="41.2" height="10.3" fill="#fff"/>
<line x1="273.32" y1="84.8" x2="273.32" y2="95.1" stroke="#383838" stroke-width="1.25" />
<line x1="279.03" y1="84.8" x2="279.03" y2="95.1" stroke="#383838" stroke-width="1.25" />
<line x1="284.74" y1="84.8" x2="284.74" y2="95.1" stroke="#383838" stroke-width="1.25" />
<line x1="290.45" y1="84.8" x2="290.45" y2="95.1" stroke="#383838" stroke-width="1.25" />
<line x1="296.15" y1="84.8" x2="296.15" y2="95.1" stroke="#383838" stroke-width="1.25" />
<line x1="301.86" y1="84.8" x2="301.86" y2="95.1" stroke="#383838" stroke-width="1.25" />
<line x1="307.57" y1="84.8" x2="307.57" y2="95.1" stroke="#383838" stroke-width="1.25" />
<line x1="313.27" y1="84.8" x2="313.27" y2="95.1" stroke="#383838" stroke-width="1.25" />
<line x1="272.7" y1="85.42" x2="313.9" y2="85.42" stroke="#383838" stroke-width="1.25" />
<line x1="272.7" y1="89.95" x2="313.9" y2="89.95" stroke="#383838" stroke-width="1.25" />
<line x1="272.7" y1="94.47" x2="313.9" y2="94.47" stroke="#383838" stroke-width="1.25" />
<rect x="272.7" y="89.33" width="29.79" height="5.78" fill="#12a022"/>
<rect x="274.25" y="90.78" width="3.86" height="2.88" fill="#2fd040"/>
<rect x="279.96" y="90.78" width="3.86" height="2.88" fill="#2fd040"/>
<rect x="285.66" y="90.78" width="3.86" height="2.88" fill="#2fd040"/>
<rect x="291.37" y="90.78" width="3.86" height="2.88" fill="#2fd040"/>
<rect x="297.08" y="90.78" width="3.86" height="2.88" fill="#2fd040"/>
<text x="274.4" y="104.85" font-size="5.8" font-weight="bold" text-anchor="end" fill="#5252e0" stroke="#5252e0" stroke-width="0.15" stroke-linejoin="round" >AZD6738</text>
<text x="274.4" y="110.4" font-size="5.8" font-weight="bold" text-anchor="end" fill="#28b25a" stroke="#28b25a" stroke-width="0.15" stroke-linejoin="round" >Olaparib</text>
<rect x="272.7" y="100.3" width="41.2" height="10.3" fill="#fff"/>
<line x1="273.32" y1="100.3" x2="273.32" y2="110.6" stroke="#383838" stroke-width="1.25" />
<line x1="279.03" y1="100.3" x2="279.03" y2="110.6" stroke="#383838" stroke-width="1.25" />
<line x1="284.74" y1="100.3" x2="284.74" y2="110.6" stroke="#383838" stroke-width="1.25" />
<line x1="290.45" y1="100.3" x2="290.45" y2="110.6" stroke="#383838" stroke-width="1.25" />
<line x1="296.15" y1="100.3" x2="296.15" y2="110.6" stroke="#383838" stroke-width="1.25" />
<line x1="301.86" y1="100.3" x2="301.86" y2="110.6" stroke="#383838" stroke-width="1.25" />
<line x1="307.57" y1="100.3" x2="307.57" y2="110.6" stroke="#383838" stroke-width="1.25" />
<line x1="313.27" y1="100.3" x2="313.27" y2="110.6" stroke="#383838" stroke-width="1.25" />
<line x1="272.7" y1="100.92" x2="313.9" y2="100.92" stroke="#383838" stroke-width="1.25" />
<line x1="272.7" y1="105.45" x2="313.9" y2="105.45" stroke="#383838" stroke-width="1.25" />
<line x1="272.7" y1="109.97" x2="313.9" y2="109.97" stroke="#383838" stroke-width="1.25" />
<rect x="272.7" y="104.83" width="41.2" height="5.78" fill="#12a022"/>
<rect x="274.25" y="106.28" width="3.86" height="2.88" fill="#2fd040"/>
<rect x="279.96" y="106.28" width="3.86" height="2.88" fill="#2fd040"/>
<rect x="285.66" y="106.28" width="3.86" height="2.88" fill="#2fd040"/>
<rect x="291.37" y="106.28" width="3.86" height="2.88" fill="#2fd040"/>
<rect x="297.08" y="106.28" width="3.86" height="2.88" fill="#2fd040"/>
<rect x="302.79" y="106.28" width="3.86" height="2.88" fill="#2fd040"/>
<rect x="308.49" y="106.28" width="3.86" height="2.88" fill="#2fd040"/>
<text x="274.4" y="125.55" font-size="5.8" font-weight="bold" text-anchor="end" fill="#5252e0" stroke="#5252e0" stroke-width="0.15" stroke-linejoin="round" >AZD6738</text>
<text x="274.4" y="131.1" font-size="5.8" font-weight="bold" text-anchor="end" fill="#28b25a" stroke="#28b25a" stroke-width="0.15" stroke-linejoin="round" >Olaparib</text>
<rect x="272.7" y="121" width="41.2" height="10.3" fill="#fff"/>
<line x1="273.32" y1="121" x2="273.32" y2="131.3" stroke="#383838" stroke-width="1.25" />
<line x1="279.03" y1="121" x2="279.03" y2="131.3" stroke="#383838" stroke-width="1.25" />
<line x1="284.74" y1="121" x2="284.74" y2="131.3" stroke="#383838" stroke-width="1.25" />
<line x1="290.45" y1="121" x2="290.45" y2="131.3" stroke="#383838" stroke-width="1.25" />
<line x1="296.15" y1="121" x2="296.15" y2="131.3" stroke="#383838" stroke-width="1.25" />
<line x1="301.86" y1="121" x2="301.86" y2="131.3" stroke="#383838" stroke-width="1.25" />
<line x1="307.57" y1="121" x2="307.57" y2="131.3" stroke="#383838" stroke-width="1.25" />
<line x1="313.27" y1="121" x2="313.27" y2="131.3" stroke="#383838" stroke-width="1.25" />
<line x1="272.7" y1="121.62" x2="313.9" y2="121.62" stroke="#383838" stroke-width="1.25" />
<line x1="272.7" y1="126.15" x2="313.9" y2="126.15" stroke="#383838" stroke-width="1.25" />
<line x1="272.7" y1="130.68" x2="313.9" y2="130.68" stroke="#383838" stroke-width="1.25" />
<rect x="272.7" y="121" width="18.37" height="5.78" fill="#3a3ad8"/>
<rect x="274.25" y="122.45" width="3.86" height="2.88" fill="#6a6af0"/>
<rect x="279.96" y="122.45" width="3.86" height="2.88" fill="#6a6af0"/>
<rect x="285.66" y="122.45" width="3.86" height="2.88" fill="#6a6af0"/>
<rect x="272.7" y="125.53" width="29.79" height="5.78" fill="#12a022"/>
<rect x="274.25" y="126.98" width="3.86" height="2.88" fill="#2fd040"/>
<rect x="279.96" y="126.98" width="3.86" height="2.88" fill="#2fd040"/>
<rect x="285.66" y="126.98" width="3.86" height="2.88" fill="#2fd040"/>
<rect x="291.37" y="126.98" width="3.86" height="2.88" fill="#2fd040"/>
<rect x="297.08" y="126.98" width="3.86" height="2.88" fill="#2fd040"/>
<text x="274.4" y="149.75" font-size="5.8" font-weight="bold" text-anchor="end" fill="#5252e0" stroke="#5252e0" stroke-width="0.15" stroke-linejoin="round" >AZD6738</text>
<text x="274.4" y="155.3" font-size="5.8" font-weight="bold" text-anchor="end" fill="#28b25a" stroke="#28b25a" stroke-width="0.15" stroke-linejoin="round" >Olaparib</text>
<rect x="272.7" y="145.2" width="41.2" height="10.3" fill="#fff"/>
<line x1="273.32" y1="145.2" x2="273.32" y2="155.5" stroke="#383838" stroke-width="1.25" />
<line x1="279.03" y1="145.2" x2="279.03" y2="155.5" stroke="#383838" stroke-width="1.25" />
<line x1="284.74" y1="145.2" x2="284.74" y2="155.5" stroke="#383838" stroke-width="1.25" />
<line x1="290.45" y1="145.2" x2="290.45" y2="155.5" stroke="#383838" stroke-width="1.25" />
<line x1="296.15" y1="145.2" x2="296.15" y2="155.5" stroke="#383838" stroke-width="1.25" />
<line x1="301.86" y1="145.2" x2="301.86" y2="155.5" stroke="#383838" stroke-width="1.25" />
<line x1="307.57" y1="145.2" x2="307.57" y2="155.5" stroke="#383838" stroke-width="1.25" />
<line x1="313.27" y1="145.2" x2="313.27" y2="155.5" stroke="#383838" stroke-width="1.25" />
<line x1="272.7" y1="145.82" x2="313.9" y2="145.82" stroke="#383838" stroke-width="1.25" />
<line x1="272.7" y1="150.35" x2="313.9" y2="150.35" stroke="#383838" stroke-width="1.25" />
<line x1="272.7" y1="154.88" x2="313.9" y2="154.88" stroke="#383838" stroke-width="1.25" />
<rect x="272.7" y="145.2" width="18.37" height="5.78" fill="#3a3ad8"/>
<rect x="274.25" y="146.65" width="3.86" height="2.88" fill="#6a6af0"/>
<rect x="279.96" y="146.65" width="3.86" height="2.88" fill="#6a6af0"/>
<rect x="285.66" y="146.65" width="3.86" height="2.88" fill="#6a6af0"/>
<rect x="272.7" y="149.72" width="41.2" height="5.78" fill="#12a022"/>
<rect x="274.25" y="151.17" width="3.86" height="2.88" fill="#2fd040"/>
<rect x="279.96" y="151.17" width="3.86" height="2.88" fill="#2fd040"/>
<rect x="285.66" y="151.17" width="3.86" height="2.88" fill="#2fd040"/>
<rect x="291.37" y="151.17" width="3.86" height="2.88" fill="#2fd040"/>
<rect x="297.08" y="151.17" width="3.86" height="2.88" fill="#2fd040"/>
<rect x="302.79" y="151.17" width="3.86" height="2.88" fill="#2fd040"/>
<rect x="308.49" y="151.17" width="3.86" height="2.88" fill="#2fd040"/>
<line x1="323.3" y1="59.8" x2="336.3" y2="59.8" stroke="#000" stroke-width="1.5" />
<circle cx="329.8" cy="59.8" r="2.85" fill="#000"/>
<line x1="323.3" y1="76.1" x2="336.3" y2="76.1" stroke="#5858f0" stroke-width="1.5" />
<rect x="327.65" y="73.95" width="4.3" height="4.3" fill="#6464f4" stroke="#5858f0" stroke-width="1"/>
<line x1="323.3" y1="92.4" x2="336.3" y2="92.4" stroke="#22d022" stroke-width="1.5" />
<polygon points="329.8,89.52 332.44,94.16 327.16,94.16" fill="none" stroke="#22d022" stroke-width="1.3" stroke-linejoin="miter"/>
<line x1="323.3" y1="107.8" x2="336.3" y2="107.8" stroke="#0f7a38" stroke-width="1.5" />
<polygon points="329.8,104.92 332.44,109.56 327.16,109.56" fill="#1c9a44" stroke="#0f7a38" stroke-width="1.3" stroke-linejoin="miter"/>
<line x1="323.3" y1="129" x2="336.3" y2="129" stroke="#f03050" stroke-width="1.5" />
<polygon points="329.8,126.12 332.44,130.76 327.16,130.76" fill="none" stroke="#f03050" stroke-width="1.3" stroke-linejoin="miter"/>
<line x1="323.3" y1="152.3" x2="336.3" y2="152.3" stroke="#9030c0" stroke-width="1.5" />
<polygon points="329.8,149.6 332.14,152.3 329.8,155 327.46,152.3" fill="#c848e8" stroke="#c040e0" stroke-width="1"/>
<text x="343.8" y="62.2" font-size="6.76" font-weight="normal" text-anchor="start" fill="#000" stroke="#000" stroke-width="0.12" stroke-linejoin="round" >Vehicle control</text>
<text x="343.8" y="78.5" font-size="6.76" font-weight="normal" text-anchor="start" fill="#000" stroke="#000" stroke-width="0.12" stroke-linejoin="round" >AZD6738 25 mg/kg (qdx3, 4 days off) x5</text>
<text x="343.8" y="94.5" font-size="6.76" font-weight="normal" text-anchor="start" fill="#000" stroke="#000" stroke-width="0.12" stroke-linejoin="round" >Olaparib 50 mg/kg (qdx5, 2 days off) x5</text>
<text x="343.8" y="109.9" font-size="6.76" font-weight="normal" text-anchor="start" fill="#000" stroke="#000" stroke-width="0.12" stroke-linejoin="round" >Olaparib 50 mg/kg (qdx42) continuous</text>
<text x="343.8" y="125.1" font-size="6.76" font-weight="normal" text-anchor="start" fill="#000" stroke="#000" stroke-width="0.12" stroke-linejoin="round" >Olaparib 50 mg/kg (qdx5, 2 days off) x5</text>
<text x="343.8" y="134.4" font-size="6.76" font-weight="normal" text-anchor="start" fill="#000" stroke="#000" stroke-width="0.12" stroke-linejoin="round" >+ AZD6738 25 mg/kg (qdx3, 4 days off) x5</text>
<text x="343.8" y="150.1" font-size="6.76" font-weight="normal" text-anchor="start" fill="#000" stroke="#000" stroke-width="0.12" stroke-linejoin="round" >Olaparib 50 mg/kg (qdx42) continuous</text>
<text x="343.8" y="159.4" font-size="6.76" font-weight="normal" text-anchor="start" fill="#000" stroke="#000" stroke-width="0.12" stroke-linejoin="round" >+AZD6738 25 mg/kg (qdx3, 4 days off) x5</text>
</g>
<g id="panelB">
<text x="1.6" y="244.6" font-size="12.4" font-weight="bold" text-anchor="start" fill="#000" stroke="#000" stroke-width="0.7" stroke-linejoin="round" >B</text>
<text x="26.1" y="244.7" font-size="11.17" font-weight="bold" text-anchor="start" fill="#000" stroke="#000" stroke-width="0.3" stroke-linejoin="round" >HBCx-10 higher dose olaparib, AZD6738 3d-on/4-off</text>
<line x1="54" y1="259.85" x2="54" y2="413.8" stroke="#000" stroke-width="1.3" />
<line x1="53.4" y1="413.2" x2="257.7" y2="413.2" stroke="#000" stroke-width="1.3" />
<line x1="54" y1="413.2" x2="54" y2="418" stroke="#000" stroke-width="1.3" />
<text x="54" y="427.9" font-size="8" font-weight="bold" text-anchor="middle" fill="#000" stroke="#000" stroke-width="0.15" stroke-linejoin="round" >0</text>
<line x1="87.85" y1="413.2" x2="87.85" y2="418" stroke="#000" stroke-width="1.3" />
<text x="87.85" y="427.9" font-size="8" font-weight="bold" text-anchor="middle" fill="#000" stroke="#000" stroke-width="0.15" stroke-linejoin="round" >10</text>
<line x1="121.7" y1="413.2" x2="121.7" y2="418" stroke="#000" stroke-width="1.3" />
<text x="121.7" y="427.9" font-size="8" font-weight="bold" text-anchor="middle" fill="#000" stroke="#000" stroke-width="0.15" stroke-linejoin="round" >20</text>
<line x1="155.55" y1="413.2" x2="155.55" y2="418" stroke="#000" stroke-width="1.3" />
<text x="155.55" y="427.9" font-size="8" font-weight="bold" text-anchor="middle" fill="#000" stroke="#000" stroke-width="0.15" stroke-linejoin="round" >30</text>
<line x1="189.4" y1="413.2" x2="189.4" y2="418" stroke="#000" stroke-width="1.3" />
<text x="189.4" y="427.9" font-size="8" font-weight="bold" text-anchor="middle" fill="#000" stroke="#000" stroke-width="0.15" stroke-linejoin="round" >40</text>
<line x1="223.25" y1="413.2" x2="223.25" y2="418" stroke="#000" stroke-width="1.3" />
<text x="223.25" y="427.9" font-size="8" font-weight="bold" text-anchor="middle" fill="#000" stroke="#000" stroke-width="0.15" stroke-linejoin="round" >50</text>
<line x1="257.1" y1="413.2" x2="257.1" y2="418" stroke="#000" stroke-width="1.3" />
<text x="257.1" y="427.9" font-size="8" font-weight="bold" text-anchor="middle" fill="#000" stroke="#000" stroke-width="0.15" stroke-linejoin="round" >60</text>
<line x1="70.92" y1="413.2" x2="70.92" y2="415.8" stroke="#000" stroke-width="1.3" />
<line x1="104.78" y1="413.2" x2="104.78" y2="415.8" stroke="#000" stroke-width="1.3" />
<line x1="138.62" y1="413.2" x2="138.62" y2="415.8" stroke="#000" stroke-width="1.3" />
<line x1="172.47" y1="413.2" x2="172.47" y2="415.8" stroke="#000" stroke-width="1.3" />
<line x1="206.32" y1="413.2" x2="206.32" y2="415.8" stroke="#000" stroke-width="1.3" />
<line x1="240.17" y1="413.2" x2="240.17" y2="415.8" stroke="#000" stroke-width="1.3" />
<line x1="48.9" y1="413.2" x2="54" y2="413.2" stroke="#000" stroke-width="1.3" />
<text x="46.9" y="416.1" font-size="8.1" font-weight="bold" text-anchor="end" fill="#000" stroke="#000" stroke-width="0.15" stroke-linejoin="round" >0</text>
<line x1="48.9" y1="382.65" x2="54" y2="382.65" stroke="#000" stroke-width="1.3" />
<text x="46.9" y="385.55" font-size="8.1" font-weight="bold" text-anchor="end" fill="#000" stroke="#000" stroke-width="0.15" stroke-linejoin="round" >500</text>
<line x1="48.9" y1="352.1" x2="54" y2="352.1" stroke="#000" stroke-width="1.3" />
<text x="46.9" y="355" font-size="8.1" font-weight="bold" text-anchor="end" fill="#000" stroke="#000" stroke-width="0.15" stroke-linejoin="round" >1,000</text>
<line x1="48.9" y1="321.55" x2="54" y2="321.55" stroke="#000" stroke-width="1.3" />
<text x="46.9" y="324.45" font-size="8.1" font-weight="bold" text-anchor="end" fill="#000" stroke="#000" stroke-width="0.15" stroke-linejoin="round" >1,500</text>
<line x1="48.9" y1="291" x2="54" y2="291" stroke="#000" stroke-width="1.3" />
<text x="46.9" y="293.9" font-size="8.1" font-weight="bold" text-anchor="end" fill="#000" stroke="#000" stroke-width="0.15" stroke-linejoin="round" >2,000</text>
<line x1="48.9" y1="260.45" x2="54" y2="260.45" stroke="#000" stroke-width="1.3" />
<text x="46.9" y="263.35" font-size="8.1" font-weight="bold" text-anchor="end" fill="#000" stroke="#000" stroke-width="0.15" stroke-linejoin="round" >2,500</text>
<text x="155" y="442.7" font-size="10.6" font-weight="bold" text-anchor="middle" fill="#000" stroke="#000" stroke-width="0.3" stroke-linejoin="round" >Days of treatment</text>
<text x="20.4" y="337.9" font-size="10.2" font-weight="bold" text-anchor="middle" fill="#000" textLength="133" lengthAdjust="spacingAndGlyphs" transform="rotate(-90 20.4 337.9)" stroke="#000" stroke-width="0.3" stroke-linejoin="round" >Mean tumor volume (mm<tspan dy="-4.6" font-size="7.8">3</tspan><tspan dy="4.6">)</tspan></text>
<line x1="165.7" y1="259" x2="165.7" y2="413.2" stroke="#707070" stroke-width="0.6" stroke-dasharray="0.7 0.9"/>
<text x="168" y="262.9" font-size="4.3" font-weight="normal" text-anchor="start" fill="#333" textLength="28.3" lengthAdjust="spacingAndGlyphs" stroke="#333" stroke-width="0.12" stroke-linejoin="round" >Stopped dosing</text>
<text x="165.6" y="402.9" font-size="8.7" font-weight="bold" text-anchor="middle" fill="#111" >***</text>
<text x="165.6" y="413" font-size="8.7" font-weight="bold" text-anchor="middle" fill="#111" >***</text>
<line x1="67.54" y1="396.8" x2="67.54" y2="398.8" stroke="#2f7d60" stroke-width="1" />
<line x1="65.44" y1="396.8" x2="69.64" y2="396.8" stroke="#2f7d60" stroke-width="1" />
<line x1="65.44" y1="398.8" x2="69.64" y2="398.8" stroke="#2f7d60" stroke-width="1" />
<line x1="74.31" y1="394" x2="74.31" y2="396" stroke="#2f7d60" stroke-width="1" />
<line x1="72.21" y1="394" x2="76.41" y2="394" stroke="#2f7d60" stroke-width="1" />
<line x1="72.21" y1="396" x2="76.41" y2="396" stroke="#2f7d60" stroke-width="1" />
<line x1="81.08" y1="390.9" x2="81.08" y2="393.9" stroke="#2f7d60" stroke-width="1" />
<line x1="78.98" y1="390.9" x2="83.18" y2="390.9" stroke="#2f7d60" stroke-width="1" />
<line x1="78.98" y1="393.9" x2="83.18" y2="393.9" stroke="#2f7d60" stroke-width="1" />
<line x1="91.23" y1="390.4" x2="91.23" y2="393.4" stroke="#2f7d60" stroke-width="1" />
<line x1="89.14" y1="390.4" x2="93.33" y2="390.4" stroke="#2f7d60" stroke-width="1" />
<line x1="89.14" y1="393.4" x2="93.33" y2="393.4" stroke="#2f7d60" stroke-width="1" />
<line x1="98" y1="388.3" x2="98" y2="392.3" stroke="#2f7d60" stroke-width="1" />
<line x1="95.91" y1="388.3" x2="100.1" y2="388.3" stroke="#2f7d60" stroke-width="1" />
<line x1="95.91" y1="392.3" x2="100.1" y2="392.3" stroke="#2f7d60" stroke-width="1" />
<line x1="104.78" y1="387" x2="104.78" y2="391" stroke="#2f7d60" stroke-width="1" />
<line x1="102.68" y1="387" x2="106.88" y2="387" stroke="#2f7d60" stroke-width="1" />
<line x1="102.68" y1="391" x2="106.88" y2="391" stroke="#2f7d60" stroke-width="1" />
<line x1="118.31" y1="390.5" x2="118.31" y2="395.5" stroke="#2f7d60" stroke-width="1" />
<line x1="116.22" y1="390.5" x2="120.41" y2="390.5" stroke="#2f7d60" stroke-width="1" />
<line x1="116.22" y1="395.5" x2="120.41" y2="395.5" stroke="#2f7d60" stroke-width="1" />
<line x1="128.47" y1="392.6" x2="128.47" y2="397.6" stroke="#2f7d60" stroke-width="1" />
<line x1="126.37" y1="392.6" x2="130.57" y2="392.6" stroke="#2f7d60" stroke-width="1" />
<line x1="126.37" y1="397.6" x2="130.57" y2="397.6" stroke="#2f7d60" stroke-width="1" />
<line x1="142.01" y1="395.6" x2="142.01" y2="401.6" stroke="#2f7d60" stroke-width="1" />
<line x1="139.91" y1="395.6" x2="144.11" y2="395.6" stroke="#2f7d60" stroke-width="1" />
<line x1="139.91" y1="401.6" x2="144.11" y2="401.6" stroke="#2f7d60" stroke-width="1" />
<line x1="152.16" y1="396.7" x2="152.16" y2="402.7" stroke="#2f7d60" stroke-width="1" />
<line x1="150.06" y1="396.7" x2="154.26" y2="396.7" stroke="#2f7d60" stroke-width="1" />
<line x1="150.06" y1="402.7" x2="154.26" y2="402.7" stroke="#2f7d60" stroke-width="1" />
<line x1="165.7" y1="401.4" x2="165.7" y2="407.4" stroke="#2f7d60" stroke-width="1" />
<line x1="163.6" y1="401.4" x2="167.8" y2="401.4" stroke="#2f7d60" stroke-width="1" />
<line x1="163.6" y1="407.4" x2="167.8" y2="407.4" stroke="#2f7d60" stroke-width="1" />
<line x1="175.86" y1="402.8" x2="175.86" y2="408.8" stroke="#2f7d60" stroke-width="1" />
<line x1="173.76" y1="402.8" x2="177.96" y2="402.8" stroke="#2f7d60" stroke-width="1" />
<line x1="173.76" y1="408.8" x2="177.96" y2="408.8" stroke="#2f7d60" stroke-width="1" />
<line x1="189.4" y1="399.6" x2="189.4" y2="406.6" stroke="#2f7d60" stroke-width="1" />
<line x1="187.3" y1="399.6" x2="191.5" y2="399.6" stroke="#2f7d60" stroke-width="1" />
<line x1="187.3" y1="406.6" x2="191.5" y2="406.6" stroke="#2f7d60" stroke-width="1" />
<line x1="199.55" y1="397.2" x2="199.55" y2="405.2" stroke="#2f7d60" stroke-width="1" />
<line x1="197.45" y1="397.2" x2="201.65" y2="397.2" stroke="#2f7d60" stroke-width="1" />
<line x1="197.45" y1="405.2" x2="201.65" y2="405.2" stroke="#2f7d60" stroke-width="1" />
<line x1="209.71" y1="394" x2="209.71" y2="404" stroke="#2f7d60" stroke-width="1" />
<line x1="207.61" y1="394" x2="211.81" y2="394" stroke="#2f7d60" stroke-width="1" />
<line x1="207.61" y1="404" x2="211.81" y2="404" stroke="#2f7d60" stroke-width="1" />
<line x1="219.86" y1="389.1" x2="219.86" y2="401.1" stroke="#2f7d60" stroke-width="1" />
<line x1="217.76" y1="389.1" x2="221.96" y2="389.1" stroke="#2f7d60" stroke-width="1" />
<line x1="217.76" y1="401.1" x2="221.96" y2="401.1" stroke="#2f7d60" stroke-width="1" />
<line x1="233.41" y1="382.2" x2="233.41" y2="396.2" stroke="#2f7d60" stroke-width="1" />
<line x1="231.31" y1="382.2" x2="235.5" y2="382.2" stroke="#2f7d60" stroke-width="1" />
<line x1="231.31" y1="396.2" x2="235.5" y2="396.2" stroke="#2f7d60" stroke-width="1" />
<line x1="243.56" y1="372" x2="243.56" y2="389" stroke="#2f7d60" stroke-width="1" />
<line x1="241.46" y1="372" x2="245.66" y2="372" stroke="#2f7d60" stroke-width="1" />
<line x1="241.46" y1="389" x2="245.66" y2="389" stroke="#2f7d60" stroke-width="1" />
<polyline points="54,404.4 67.54,397.8 74.31,395 81.08,392.4 91.23,391.9 98,390.3 104.78,389 118.31,393 128.47,395.1 142.01,398.6 152.16,399.7 165.7,404.4 175.86,405.8 189.4,403.1 199.55,401.2 209.71,399 219.86,395.1 233.41,389.2 243.56,380.5" fill="none" stroke="#176b4a" stroke-width="1.45" stroke-linejoin="round"/>
<polygon points="51.6,402.56 56.4,402.56 54,406.72" fill="#1c7a54" stroke="#176b4a" stroke-width="1"/>
<polygon points="65.14,395.96 69.94,395.96 67.54,400.12" fill="#1c7a54" stroke="#176b4a" stroke-width="1"/>
<polygon points="71.91,393.16 76.71,393.16 74.31,397.32" fill="#1c7a54" stroke="#176b4a" stroke-width="1"/>
<polygon points="78.68,390.56 83.48,390.56 81.08,394.72" fill="#1c7a54" stroke="#176b4a" stroke-width="1"/>
<polygon points="88.83,390.06 93.64,390.06 91.23,394.22" fill="#1c7a54" stroke="#176b4a" stroke-width="1"/>
<polygon points="95.6,388.46 100.41,388.46 98,392.62" fill="#1c7a54" stroke="#176b4a" stroke-width="1"/>
<polygon points="102.38,387.16 107.18,387.16 104.78,391.32" fill="#1c7a54" stroke="#176b4a" stroke-width="1"/>
<polygon points="115.91,391.16 120.72,391.16 118.31,395.32" fill="#1c7a54" stroke="#176b4a" stroke-width="1"/>
<polygon points="126.07,393.26 130.87,393.26 128.47,397.42" fill="#1c7a54" stroke="#176b4a" stroke-width="1"/>
<polygon points="139.61,396.76 144.41,396.76 142.01,400.92" fill="#1c7a54" stroke="#176b4a" stroke-width="1"/>
<polygon points="149.76,397.86 154.56,397.86 152.16,402.02" fill="#1c7a54" stroke="#176b4a" stroke-width="1"/>
<polygon points="163.3,402.56 168.1,402.56 165.7,406.72" fill="#1c7a54" stroke="#176b4a" stroke-width="1"/>
<polygon points="173.46,403.96 178.26,403.96 175.86,408.12" fill="#1c7a54" stroke="#176b4a" stroke-width="1"/>
<polygon points="187,401.26 191.8,401.26 189.4,405.42" fill="#1c7a54" stroke="#176b4a" stroke-width="1"/>
<polygon points="197.15,399.36 201.95,399.36 199.55,403.52" fill="#1c7a54" stroke="#176b4a" stroke-width="1"/>
<polygon points="207.31,397.16 212.11,397.16 209.71,401.32" fill="#1c7a54" stroke="#176b4a" stroke-width="1"/>
<polygon points="217.46,393.26 222.26,393.26 219.86,397.42" fill="#1c7a54" stroke="#176b4a" stroke-width="1"/>
<polygon points="231,387.36 235.81,387.36 233.41,391.52" fill="#1c7a54" stroke="#176b4a" stroke-width="1"/>
<polygon points="241.16,378.66 245.96,378.66 243.56,382.82" fill="#1c7a54" stroke="#176b4a" stroke-width="1"/>
<line x1="67.54" y1="398" x2="67.54" y2="400" stroke="#e08080" stroke-width="1" />
<line x1="65.44" y1="398" x2="69.64" y2="398" stroke="#e08080" stroke-width="1" />
<line x1="65.44" y1="400" x2="69.64" y2="400" stroke="#e08080" stroke-width="1" />
<line x1="74.31" y1="396.8" x2="74.31" y2="398.8" stroke="#e08080" stroke-width="1" />
<line x1="72.21" y1="396.8" x2="76.41" y2="396.8" stroke="#e08080" stroke-width="1" />
<line x1="72.21" y1="398.8" x2="76.41" y2="398.8" stroke="#e08080" stroke-width="1" />
<line x1="81.08" y1="396" x2="81.08" y2="398" stroke="#e08080" stroke-width="1" />
<line x1="78.98" y1="396" x2="83.18" y2="396" stroke="#e08080" stroke-width="1" />
<line x1="78.98" y1="398" x2="83.18" y2="398" stroke="#e08080" stroke-width="1" />
<line x1="91.23" y1="396.2" x2="91.23" y2="398.2" stroke="#e08080" stroke-width="1" />
<line x1="89.14" y1="396.2" x2="93.33" y2="396.2" stroke="#e08080" stroke-width="1" />
<line x1="89.14" y1="398.2" x2="93.33" y2="398.2" stroke="#e08080" stroke-width="1" />
<line x1="98" y1="397.3" x2="98" y2="399.3" stroke="#e08080" stroke-width="1" />
<line x1="95.91" y1="397.3" x2="100.1" y2="397.3" stroke="#e08080" stroke-width="1" />
<line x1="95.91" y1="399.3" x2="100.1" y2="399.3" stroke="#e08080" stroke-width="1" />
<line x1="104.78" y1="397.6" x2="104.78" y2="400.6" stroke="#e08080" stroke-width="1" />
<line x1="102.68" y1="397.6" x2="106.88" y2="397.6" stroke="#e08080" stroke-width="1" />
<line x1="102.68" y1="400.6" x2="106.88" y2="400.6" stroke="#e08080" stroke-width="1" />
<line x1="118.31" y1="400.3" x2="118.31" y2="403.3" stroke="#e08080" stroke-width="1" />
<line x1="116.22" y1="400.3" x2="120.41" y2="400.3" stroke="#e08080" stroke-width="1" />
<line x1="116.22" y1="403.3" x2="120.41" y2="403.3" stroke="#e08080" stroke-width="1" />
<line x1="128.47" y1="402.9" x2="128.47" y2="405.9" stroke="#e08080" stroke-width="1" />
<line x1="126.37" y1="402.9" x2="130.57" y2="402.9" stroke="#e08080" stroke-width="1" />
<line x1="126.37" y1="405.9" x2="130.57" y2="405.9" stroke="#e08080" stroke-width="1" />
<line x1="142.01" y1="408.2" x2="142.01" y2="410.2" stroke="#e08080" stroke-width="1" />
<line x1="139.91" y1="408.2" x2="144.11" y2="408.2" stroke="#e08080" stroke-width="1" />
<line x1="139.91" y1="410.2" x2="144.11" y2="410.2" stroke="#e08080" stroke-width="1" />
<line x1="152.16" y1="409.5" x2="152.16" y2="411.5" stroke="#e08080" stroke-width="1" />
<line x1="150.06" y1="409.5" x2="154.26" y2="409.5" stroke="#e08080" stroke-width="1" />
<line x1="150.06" y1="411.5" x2="154.26" y2="411.5" stroke="#e08080" stroke-width="1" />
<line x1="165.7" y1="411.4" x2="165.7" y2="412.4" stroke="#e08080" stroke-width="1" />
<line x1="163.6" y1="411.4" x2="167.8" y2="411.4" stroke="#e08080" stroke-width="1" />
<line x1="163.6" y1="412.4" x2="167.8" y2="412.4" stroke="#e08080" stroke-width="1" />
<line x1="243.56" y1="410.5" x2="243.56" y2="411.5" stroke="#e08080" stroke-width="1" />
<line x1="241.46" y1="410.5" x2="245.66" y2="410.5" stroke="#e08080" stroke-width="1" />
<line x1="241.46" y1="411.5" x2="245.66" y2="411.5" stroke="#e08080" stroke-width="1" />
<polyline points="54,404.4 67.54,399 74.31,397.8 81.08,397 91.23,397.2 98,398.3 104.78,399.1 118.31,401.8 128.47,404.4 142.01,409.2 152.16,410.5 165.7,411.9 175.86,412.4 189.4,412.4 199.55,412.4 209.71,412.4 219.86,412.4 233.41,412.4 243.56,411" fill="none" stroke="#c41c1c" stroke-width="1.55" stroke-linejoin="round"/>
<polygon points="54,402 56.08,404.4 54,406.8 51.92,404.4" fill="#ffa4a4" stroke="#dc2c2c" stroke-width="1.1"/>
<polygon points="67.54,396.6 69.62,399 67.54,401.4 65.46,399" fill="#ffa4a4" stroke="#dc2c2c" stroke-width="1.1"/>
<polygon points="74.31,395.4 76.39,397.8 74.31,400.2 72.23,397.8" fill="#ffa4a4" stroke="#dc2c2c" stroke-width="1.1"/>
<polygon points="81.08,394.6 83.16,397 81.08,399.4 79,397" fill="#ffa4a4" stroke="#dc2c2c" stroke-width="1.1"/>
<polygon points="91.23,394.8 93.31,397.2 91.23,399.6 89.16,397.2" fill="#ffa4a4" stroke="#dc2c2c" stroke-width="1.1"/>
<polygon points="98,395.9 100.08,398.3 98,400.7 95.92,398.3" fill="#ffa4a4" stroke="#dc2c2c" stroke-width="1.1"/>
<polygon points="104.78,396.7 106.86,399.1 104.78,401.5 102.7,399.1" fill="#ffa4a4" stroke="#dc2c2c" stroke-width="1.1"/>
<polygon points="118.31,399.4 120.39,401.8 118.31,404.2 116.23,401.8" fill="#ffa4a4" stroke="#dc2c2c" stroke-width="1.1"/>
<polygon points="128.47,402 130.55,404.4 128.47,406.8 126.39,404.4" fill="#ffa4a4" stroke="#dc2c2c" stroke-width="1.1"/>
<polygon points="142.01,406.8 144.09,409.2 142.01,411.6 139.93,409.2" fill="#ffa4a4" stroke="#dc2c2c" stroke-width="1.1"/>
<polygon points="152.16,408.1 154.25,410.5 152.16,412.9 150.08,410.5" fill="#ffa4a4" stroke="#dc2c2c" stroke-width="1.1"/>
<polygon points="165.7,409.5 167.78,411.9 165.7,414.3 163.62,411.9" fill="#ffa4a4" stroke="#dc2c2c" stroke-width="1.1"/>
<polygon points="175.86,410 177.94,412.4 175.86,414.8 173.78,412.4" fill="#ffa4a4" stroke="#dc2c2c" stroke-width="1.1"/>
<polygon points="189.4,410 191.48,412.4 189.4,414.8 187.32,412.4" fill="#ffa4a4" stroke="#dc2c2c" stroke-width="1.1"/>
<polygon points="199.55,410 201.63,412.4 199.55,414.8 197.47,412.4" fill="#ffa4a4" stroke="#dc2c2c" stroke-width="1.1"/>
<polygon points="209.71,410 211.79,412.4 209.71,414.8 207.63,412.4" fill="#ffa4a4" stroke="#dc2c2c" stroke-width="1.1"/>
<polygon points="219.86,410 221.94,412.4 219.86,414.8 217.78,412.4" fill="#ffa4a4" stroke="#dc2c2c" stroke-width="1.1"/>
<polygon points="233.41,410 235.49,412.4 233.41,414.8 231.32,412.4" fill="#ffa4a4" stroke="#dc2c2c" stroke-width="1.1"/>
<polygon points="243.56,408.6 245.64,411 243.56,413.4 241.48,411" fill="#ffa4a4" stroke="#dc2c2c" stroke-width="1.1"/>
<polyline points="54,404.4 67.54,398.6 74.31,395.1 81.08,390.6 91.23,383.1 98,378.6 104.78,368.5 118.31,354.6 128.47,339.2 142.01,320.6 152.16,307.2 165.7,303.2 175.86,301.1 189.4,284.6" fill="none" stroke="#1020c8" stroke-width="1.45" stroke-linejoin="round"/>
<rect x="51.59" y="401.99" width="4.82" height="4.82" fill="#5898f0" stroke="#1020c8" stroke-width="1.2"/>
<rect x="65.13" y="396.19" width="4.82" height="4.82" fill="#5898f0" stroke="#1020c8" stroke-width="1.2"/>
<rect x="71.9" y="392.69" width="4.82" height="4.82" fill="#5898f0" stroke="#1020c8" stroke-width="1.2"/>
<rect x="78.67" y="388.19" width="4.82" height="4.82" fill="#5898f0" stroke="#1020c8" stroke-width="1.2"/>
<rect x="88.83" y="380.69" width="4.82" height="4.82" fill="#5898f0" stroke="#1020c8" stroke-width="1.2"/>
<rect x="95.6" y="376.19" width="4.82" height="4.82" fill="#5898f0" stroke="#1020c8" stroke-width="1.2"/>
<rect x="102.37" y="366.09" width="4.82" height="4.82" fill="#5898f0" stroke="#1020c8" stroke-width="1.2"/>
<rect x="115.91" y="352.19" width="4.82" height="4.82" fill="#5898f0" stroke="#1020c8" stroke-width="1.2"/>
<rect x="126.06" y="336.79" width="4.82" height="4.82" fill="#5898f0" stroke="#1020c8" stroke-width="1.2"/>
<rect x="139.6" y="318.19" width="4.82" height="4.82" fill="#5898f0" stroke="#1020c8" stroke-width="1.2"/>
<rect x="149.76" y="304.79" width="4.82" height="4.82" fill="#5898f0" stroke="#1020c8" stroke-width="1.2"/>
<rect x="163.3" y="300.79" width="4.82" height="4.82" fill="#5898f0" stroke="#1020c8" stroke-width="1.2"/>
<rect x="173.45" y="298.69" width="4.82" height="4.82" fill="#5898f0" stroke="#1020c8" stroke-width="1.2"/>
<rect x="186.99" y="282.19" width="4.82" height="4.82" fill="#5898f0" stroke="#1020c8" stroke-width="1.2"/>
<line x1="67.54" y1="397.6" x2="67.54" y2="399.6" stroke="#2a3ac0" stroke-width="1" />
<line x1="65.44" y1="397.6" x2="69.64" y2="397.6" stroke="#2a3ac0" stroke-width="1" />
<line x1="65.44" y1="399.6" x2="69.64" y2="399.6" stroke="#2a3ac0" stroke-width="1" />
<line x1="74.31" y1="393.6" x2="74.31" y2="396.6" stroke="#2a3ac0" stroke-width="1" />
<line x1="72.21" y1="393.6" x2="76.41" y2="393.6" stroke="#2a3ac0" stroke-width="1" />
<line x1="72.21" y1="396.6" x2="76.41" y2="396.6" stroke="#2a3ac0" stroke-width="1" />
<line x1="81.08" y1="389.1" x2="81.08" y2="392.1" stroke="#2a3ac0" stroke-width="1" />
<line x1="78.98" y1="389.1" x2="83.18" y2="389.1" stroke="#2a3ac0" stroke-width="1" />
<line x1="78.98" y1="392.1" x2="83.18" y2="392.1" stroke="#2a3ac0" stroke-width="1" />
<line x1="91.23" y1="381.1" x2="91.23" y2="385.1" stroke="#2a3ac0" stroke-width="1" />
<line x1="89.14" y1="381.1" x2="93.33" y2="381.1" stroke="#2a3ac0" stroke-width="1" />
<line x1="89.14" y1="385.1" x2="93.33" y2="385.1" stroke="#2a3ac0" stroke-width="1" />
<line x1="98" y1="375.6" x2="98" y2="381.6" stroke="#2a3ac0" stroke-width="1" />
<line x1="95.91" y1="375.6" x2="100.1" y2="375.6" stroke="#2a3ac0" stroke-width="1" />
<line x1="95.91" y1="381.6" x2="100.1" y2="381.6" stroke="#2a3ac0" stroke-width="1" />
<line x1="104.78" y1="365" x2="104.78" y2="372" stroke="#2a3ac0" stroke-width="1" />
<line x1="102.68" y1="365" x2="106.88" y2="365" stroke="#2a3ac0" stroke-width="1" />
<line x1="102.68" y1="372" x2="106.88" y2="372" stroke="#2a3ac0" stroke-width="1" />
<line x1="118.31" y1="349.6" x2="118.31" y2="359.6" stroke="#2a3ac0" stroke-width="1" />
<line x1="116.22" y1="349.6" x2="120.41" y2="349.6" stroke="#2a3ac0" stroke-width="1" />
<line x1="116.22" y1="359.6" x2="120.41" y2="359.6" stroke="#2a3ac0" stroke-width="1" />
<line x1="128.47" y1="332.2" x2="128.47" y2="346.2" stroke="#2a3ac0" stroke-width="1" />
<line x1="126.37" y1="332.2" x2="130.57" y2="332.2" stroke="#2a3ac0" stroke-width="1" />
<line x1="126.37" y1="346.2" x2="130.57" y2="346.2" stroke="#2a3ac0" stroke-width="1" />
<line x1="142.01" y1="311.6" x2="142.01" y2="329.6" stroke="#2a3ac0" stroke-width="1" />
<line x1="139.91" y1="311.6" x2="144.11" y2="311.6" stroke="#2a3ac0" stroke-width="1" />
<line x1="139.91" y1="329.6" x2="144.11" y2="329.6" stroke="#2a3ac0" stroke-width="1" />
<line x1="152.16" y1="297.2" x2="152.16" y2="317.2" stroke="#2a3ac0" stroke-width="1" />
<line x1="150.06" y1="297.2" x2="154.26" y2="297.2" stroke="#2a3ac0" stroke-width="1" />
<line x1="150.06" y1="317.2" x2="154.26" y2="317.2" stroke="#2a3ac0" stroke-width="1" />
<line x1="165.7" y1="292.2" x2="165.7" y2="314.2" stroke="#2a3ac0" stroke-width="1" />
<line x1="163.6" y1="292.2" x2="167.8" y2="292.2" stroke="#2a3ac0" stroke-width="1" />
<line x1="163.6" y1="314.2" x2="167.8" y2="314.2" stroke="#2a3ac0" stroke-width="1" />
<line x1="175.86" y1="289.1" x2="175.86" y2="313.1" stroke="#2a3ac0" stroke-width="1" />
<line x1="173.76" y1="289.1" x2="177.96" y2="289.1" stroke="#2a3ac0" stroke-width="1" />
<line x1="173.76" y1="313.1" x2="177.96" y2="313.1" stroke="#2a3ac0" stroke-width="1" />
<line x1="189.4" y1="272.6" x2="189.4" y2="296.6" stroke="#2a3ac0" stroke-width="1" />
<line x1="187.3" y1="272.6" x2="191.5" y2="272.6" stroke="#2a3ac0" stroke-width="1" />
<line x1="187.3" y1="296.6" x2="191.5" y2="296.6" stroke="#2a3ac0" stroke-width="1" />
<line x1="67.54" y1="396.2" x2="67.54" y2="398.2" stroke="#222" stroke-width="1" />
<line x1="65.44" y1="396.2" x2="69.64" y2="396.2" stroke="#222" stroke-width="1" />
<line x1="65.44" y1="398.2" x2="69.64" y2="398.2" stroke="#222" stroke-width="1" />
<line x1="74.31" y1="392.3" x2="74.31" y2="395.3" stroke="#222" stroke-width="1" />
<line x1="72.21" y1="392.3" x2="76.41" y2="392.3" stroke="#222" stroke-width="1" />
<line x1="72.21" y1="395.3" x2="76.41" y2="395.3" stroke="#222" stroke-width="1" />
<line x1="81.08" y1="386.9" x2="81.08" y2="389.9" stroke="#222" stroke-width="1" />
<line x1="78.98" y1="386.9" x2="83.18" y2="386.9" stroke="#222" stroke-width="1" />
<line x1="78.98" y1="389.9" x2="83.18" y2="389.9" stroke="#222" stroke-width="1" />
<line x1="91.23" y1="377.1" x2="91.23" y2="381.1" stroke="#222" stroke-width="1" />
<line x1="89.14" y1="377.1" x2="93.33" y2="377.1" stroke="#222" stroke-width="1" />
<line x1="89.14" y1="381.1" x2="93.33" y2="381.1" stroke="#222" stroke-width="1" />
<line x1="98" y1="368.1" x2="98" y2="374.1" stroke="#222" stroke-width="1" />
<line x1="95.91" y1="368.1" x2="100.1" y2="368.1" stroke="#222" stroke-width="1" />
<line x1="95.91" y1="374.1" x2="100.1" y2="374.1" stroke="#222" stroke-width="1" />
<line x1="104.78" y1="361" x2="104.78" y2="368" stroke="#222" stroke-width="1" />
<line x1="102.68" y1="361" x2="106.88" y2="361" stroke="#222" stroke-width="1" />
<line x1="102.68" y1="368" x2="106.88" y2="368" stroke="#222" stroke-width="1" />
<line x1="118.31" y1="343.5" x2="118.31" y2="353.5" stroke="#222" stroke-width="1" />
<line x1="116.22" y1="343.5" x2="120.41" y2="343.5" stroke="#222" stroke-width="1" />
<line x1="116.22" y1="353.5" x2="120.41" y2="353.5" stroke="#222" stroke-width="1" />
<line x1="128.47" y1="327.3" x2="128.47" y2="339.3" stroke="#222" stroke-width="1" />
<line x1="126.37" y1="327.3" x2="130.57" y2="327.3" stroke="#222" stroke-width="1" />
<line x1="126.37" y1="339.3" x2="130.57" y2="339.3" stroke="#222" stroke-width="1" />
<line x1="142.01" y1="303.8" x2="142.01" y2="319.8" stroke="#222" stroke-width="1" />
<line x1="139.91" y1="303.8" x2="144.11" y2="303.8" stroke="#222" stroke-width="1" />
<line x1="139.91" y1="319.8" x2="144.11" y2="319.8" stroke="#222" stroke-width="1" />
<line x1="152.16" y1="294.4" x2="152.16" y2="310.4" stroke="#222" stroke-width="1" />
<line x1="150.06" y1="294.4" x2="154.26" y2="294.4" stroke="#222" stroke-width="1" />
<line x1="150.06" y1="310.4" x2="154.26" y2="310.4" stroke="#222" stroke-width="1" />
<line x1="165.7" y1="289.7" x2="165.7" y2="308.9" stroke="#222" stroke-width="1" />
<line x1="163.6" y1="289.7" x2="167.8" y2="289.7" stroke="#222" stroke-width="1" />
<line x1="163.6" y1="308.9" x2="167.8" y2="308.9" stroke="#222" stroke-width="1" />
<line x1="175.86" y1="268.3" x2="175.86" y2="282.3" stroke="#222" stroke-width="1" />
<line x1="173.76" y1="268.3" x2="177.96" y2="268.3" stroke="#222" stroke-width="1" />
<line x1="173.76" y1="282.3" x2="177.96" y2="282.3" stroke="#222" stroke-width="1" />
<polyline points="54,404.4 67.54,397.2 74.31,393.8 81.08,388.4 91.23,379.1 98,371.1 104.78,364.5 118.31,348.5 128.47,333.3 142.01,311.8 152.16,302.4 165.7,299.3 175.86,275.3" fill="none" stroke="#000" stroke-width="1.45" stroke-linejoin="round"/>
<circle cx="54" cy="404.4" r="2.85" fill="#000"/>
<circle cx="67.54" cy="397.2" r="2.85" fill="#000"/>
<circle cx="74.31" cy="393.8" r="2.85" fill="#000"/>
<circle cx="81.08" cy="388.4" r="2.85" fill="#000"/>
<circle cx="91.23" cy="379.1" r="2.85" fill="#000"/>
<circle cx="98" cy="371.1" r="2.85" fill="#000"/>
<circle cx="104.78" cy="364.5" r="2.85" fill="#000"/>
<circle cx="118.31" cy="348.5" r="2.85" fill="#000"/>
<circle cx="128.47" cy="333.3" r="2.85" fill="#000"/>
<circle cx="142.01" cy="311.8" r="2.85" fill="#000"/>
<circle cx="152.16" cy="302.4" r="2.85" fill="#000"/>
<circle cx="165.7" cy="299.3" r="2.85" fill="#000"/>
<circle cx="175.86" cy="275.3" r="2.85" fill="#000"/>
<text x="282.6" y="290.95" font-size="5.8" font-weight="bold" text-anchor="end" fill="#5252e0" stroke="#5252e0" stroke-width="0.15" stroke-linejoin="round" >AZD6738</text>
<text x="282.6" y="296.7" font-size="5.8" font-weight="bold" text-anchor="end" fill="#28b25a" stroke="#28b25a" stroke-width="0.15" stroke-linejoin="round" >Olaparib</text>
<rect x="283.1" y="286.2" width="46.7" height="10.7" fill="#fff"/>
<line x1="283.73" y1="286.2" x2="283.73" y2="296.9" stroke="#383838" stroke-width="1.25" />
<line x1="290.22" y1="286.2" x2="290.22" y2="296.9" stroke="#383838" stroke-width="1.25" />
<line x1="296.71" y1="286.2" x2="296.71" y2="296.9" stroke="#383838" stroke-width="1.25" />
<line x1="303.2" y1="286.2" x2="303.2" y2="296.9" stroke="#383838" stroke-width="1.25" />
<line x1="309.7" y1="286.2" x2="309.7" y2="296.9" stroke="#383838" stroke-width="1.25" />
<line x1="316.19" y1="286.2" x2="316.19" y2="296.9" stroke="#383838" stroke-width="1.25" />
<line x1="322.68" y1="286.2" x2="322.68" y2="296.9" stroke="#383838" stroke-width="1.25" />
<line x1="329.18" y1="286.2" x2="329.18" y2="296.9" stroke="#383838" stroke-width="1.25" />
<line x1="283.1" y1="286.82" x2="329.8" y2="286.82" stroke="#383838" stroke-width="1.25" />
<line x1="283.1" y1="291.55" x2="329.8" y2="291.55" stroke="#383838" stroke-width="1.25" />
<line x1="283.1" y1="296.27" x2="329.8" y2="296.27" stroke="#383838" stroke-width="1.25" />
<text x="282.6" y="313.75" font-size="5.8" font-weight="bold" text-anchor="end" fill="#5252e0" stroke="#5252e0" stroke-width="0.15" stroke-linejoin="round" >AZD6738</text>
<text x="282.6" y="319.5" font-size="5.8" font-weight="bold" text-anchor="end" fill="#28b25a" stroke="#28b25a" stroke-width="0.15" stroke-linejoin="round" >Olaparib</text>
<rect x="283.1" y="309" width="46.7" height="10.7" fill="#fff"/>
<line x1="283.73" y1="309" x2="283.73" y2="319.7" stroke="#383838" stroke-width="1.25" />
<line x1="290.22" y1="309" x2="290.22" y2="319.7" stroke="#383838" stroke-width="1.25" />
<line x1="296.71" y1="309" x2="296.71" y2="319.7" stroke="#383838" stroke-width="1.25" />
<line x1="303.2" y1="309" x2="303.2" y2="319.7" stroke="#383838" stroke-width="1.25" />
<line x1="309.7" y1="309" x2="309.7" y2="319.7" stroke="#383838" stroke-width="1.25" />
<line x1="316.19" y1="309" x2="316.19" y2="319.7" stroke="#383838" stroke-width="1.25" />
<line x1="322.68" y1="309" x2="322.68" y2="319.7" stroke="#383838" stroke-width="1.25" />
<line x1="329.18" y1="309" x2="329.18" y2="319.7" stroke="#383838" stroke-width="1.25" />
<line x1="283.1" y1="309.62" x2="329.8" y2="309.62" stroke="#383838" stroke-width="1.25" />
<line x1="283.1" y1="314.35" x2="329.8" y2="314.35" stroke="#383838" stroke-width="1.25" />
<line x1="283.1" y1="319.07" x2="329.8" y2="319.07" stroke="#383838" stroke-width="1.25" />
<rect x="283.1" y="309" width="20.73" height="5.97" fill="#3478e4"/>
<rect x="284.65" y="310.45" width="4.64" height="3.07" fill="#58a0f8"/>
<rect x="291.14" y="310.45" width="4.64" height="3.07" fill="#58a0f8"/>
<rect x="297.64" y="310.45" width="4.64" height="3.07" fill="#58a0f8"/>
<text x="282.6" y="336.75" font-size="5.8" font-weight="bold" text-anchor="end" fill="#5252e0" stroke="#5252e0" stroke-width="0.15" stroke-linejoin="round" >AZD6738</text>
<text x="282.6" y="342.5" font-size="5.8" font-weight="bold" text-anchor="end" fill="#28b25a" stroke="#28b25a" stroke-width="0.15" stroke-linejoin="round" >Olaparib</text>
<rect x="283.1" y="332" width="46.7" height="10.7" fill="#fff"/>
<line x1="283.73" y1="332" x2="283.73" y2="342.7" stroke="#383838" stroke-width="1.25" />
<line x1="290.22" y1="332" x2="290.22" y2="342.7" stroke="#383838" stroke-width="1.25" />
<line x1="296.71" y1="332" x2="296.71" y2="342.7" stroke="#383838" stroke-width="1.25" />
<line x1="303.2" y1="332" x2="303.2" y2="342.7" stroke="#383838" stroke-width="1.25" />
<line x1="309.7" y1="332" x2="309.7" y2="342.7" stroke="#383838" stroke-width="1.25" />
<line x1="316.19" y1="332" x2="316.19" y2="342.7" stroke="#383838" stroke-width="1.25" />
<line x1="322.68" y1="332" x2="322.68" y2="342.7" stroke="#383838" stroke-width="1.25" />
<line x1="329.18" y1="332" x2="329.18" y2="342.7" stroke="#383838" stroke-width="1.25" />
<line x1="283.1" y1="332.62" x2="329.8" y2="332.62" stroke="#383838" stroke-width="1.25" />
<line x1="283.1" y1="337.35" x2="329.8" y2="337.35" stroke="#383838" stroke-width="1.25" />
<line x1="283.1" y1="342.07" x2="329.8" y2="342.07" stroke="#383838" stroke-width="1.25" />
<rect x="283.1" y="336.73" width="33.71" height="5.97" fill="#2c3a1c"/>
<rect x="284.65" y="338.18" width="4.64" height="3.07" fill="#42562c"/>
<rect x="291.14" y="338.18" width="4.64" height="3.07" fill="#42562c"/>
<rect x="297.64" y="338.18" width="4.64" height="3.07" fill="#42562c"/>
<rect x="304.13" y="338.18" width="4.64" height="3.07" fill="#42562c"/>
<rect x="310.62" y="338.18" width="4.64" height="3.07" fill="#42562c"/>
<text x="282.6" y="365.35" font-size="5.8" font-weight="bold" text-anchor="end" fill="#5252e0" stroke="#5252e0" stroke-width="0.15" stroke-linejoin="round" >AZD6738</text>
<text x="282.6" y="371.1" font-size="5.8" font-weight="bold" text-anchor="end" fill="#28b25a" stroke="#28b25a" stroke-width="0.15" stroke-linejoin="round" >Olaparib</text>
<rect x="283.1" y="360.6" width="46.7" height="10.7" fill="#fff"/>
<line x1="283.73" y1="360.6" x2="283.73" y2="371.3" stroke="#383838" stroke-width="1.25" />
<line x1="290.22" y1="360.6" x2="290.22" y2="371.3" stroke="#383838" stroke-width="1.25" />
<line x1="296.71" y1="360.6" x2="296.71" y2="371.3" stroke="#383838" stroke-width="1.25" />
<line x1="303.2" y1="360.6" x2="303.2" y2="371.3" stroke="#383838" stroke-width="1.25" />
<line x1="309.7" y1="360.6" x2="309.7" y2="371.3" stroke="#383838" stroke-width="1.25" />
<line x1="316.19" y1="360.6" x2="316.19" y2="371.3" stroke="#383838" stroke-width="1.25" />
<line x1="322.68" y1="360.6" x2="322.68" y2="371.3" stroke="#383838" stroke-width="1.25" />
<line x1="329.18" y1="360.6" x2="329.18" y2="371.3" stroke="#383838" stroke-width="1.25" />
<line x1="283.1" y1="361.23" x2="329.8" y2="361.23" stroke="#383838" stroke-width="1.25" />
<line x1="283.1" y1="365.95" x2="329.8" y2="365.95" stroke="#383838" stroke-width="1.25" />
<line x1="283.1" y1="370.68" x2="329.8" y2="370.68" stroke="#383838" stroke-width="1.25" />
<rect x="283.1" y="360.6" width="20.73" height="5.97" fill="#3838d0"/>
<rect x="284.65" y="362.05" width="4.64" height="3.07" fill="#6464f0"/>
<rect x="291.14" y="362.05" width="4.64" height="3.07" fill="#6464f0"/>
<rect x="297.64" y="362.05" width="4.64" height="3.07" fill="#6464f0"/>
<rect x="283.1" y="365.33" width="33.71" height="5.97" fill="#2c3a1c"/>
<rect x="284.65" y="366.78" width="4.64" height="3.07" fill="#42562c"/>
<rect x="291.14" y="366.78" width="4.64" height="3.07" fill="#42562c"/>
<rect x="297.64" y="366.78" width="4.64" height="3.07" fill="#42562c"/>
<rect x="304.13" y="366.78" width="4.64" height="3.07" fill="#42562c"/>
<rect x="310.62" y="366.78" width="4.64" height="3.07" fill="#42562c"/>
<line x1="334.95" y1="297" x2="349.45" y2="297" stroke="#000" stroke-width="1.3" />
<circle cx="342.2" cy="297" r="3.08" fill="#000"/>
<line x1="334.95" y1="319.1" x2="349.45" y2="319.1" stroke="#1020c8" stroke-width="1.3" />
<rect x="339.3" y="316.2" width="5.8" height="5.8" fill="#5898f0" stroke="#1020c8" stroke-width="1.2"/>
<line x1="334.95" y1="340.7" x2="349.45" y2="340.7" stroke="#176b4a" stroke-width="1.3" />
<polygon points="339.2,338.4 345.2,338.4 342.2,343.6" fill="#1c7a54" stroke="#176b4a" stroke-width="1"/>
<line x1="334.95" y1="367.3" x2="349.45" y2="367.3" stroke="#e03030" stroke-width="1.3" />
<polygon points="342.2,364.72 345.55,367.3 342.2,369.88 338.85,367.3" fill="#ffd0d0" stroke="#e03030" stroke-width="1.1"/>
<text x="355.4" y="299.4" font-size="6.95" font-weight="normal" text-anchor="start" fill="#000" stroke="#000" stroke-width="0.12" stroke-linejoin="round" >Vehicle control</text>
<text x="355.4" y="321.6" font-size="6.95" font-weight="normal" text-anchor="start" fill="#000" stroke="#000" stroke-width="0.12" stroke-linejoin="round" >AZD6738 50 mg/kg (qdx3, 4 days off) x4</text>
<text x="355.4" y="343.2" font-size="6.95" font-weight="normal" text-anchor="start" fill="#000" stroke="#000" stroke-width="0.12" stroke-linejoin="round" >Olaparib 100 mg/kg qd (qdx5, 2 days off) x4</text>
<text x="355.4" y="365.1" font-size="6.95" font-weight="normal" text-anchor="start" fill="#000" stroke="#000" stroke-width="0.12" stroke-linejoin="round" >Olaparib 100 mg/kg (qdx5, 2 days off) x4</text>
<text x="355.4" y="373.3" font-size="6.95" font-weight="normal" text-anchor="start" fill="#000" stroke="#000" stroke-width="0.12" stroke-linejoin="round" >+ AZD6738 50 mg/kg (qdx3,4 days off) x4 (8 hr apart)</text>
</g>
<g id="panelC">
<text x="1.8" y="469" font-size="12.4" font-weight="bold" text-anchor="start" fill="#000" stroke="#000" stroke-width="0.7" stroke-linejoin="round" >C</text>
<text x="40.3" y="469.7" font-size="9.45" font-weight="bold" text-anchor="start" fill="#000" stroke="#000" stroke-width="0.3" stroke-linejoin="round" >HBCx-9 higher olaparib dose, AZD6738 14d-on</text>
<line x1="56.6" y1="486.4" x2="56.6" y2="642" stroke="#000" stroke-width="1.3" />
<line x1="56" y1="641.4" x2="257.82" y2="641.4" stroke="#000" stroke-width="1.3" />
<line x1="56.6" y1="641.4" x2="56.6" y2="646.2" stroke="#000" stroke-width="1.3" />
<text x="56.6" y="656.1" font-size="8" font-weight="bold" text-anchor="middle" fill="#000" stroke="#000" stroke-width="0.15" stroke-linejoin="round" >0</text>
<line x1="85.26" y1="641.4" x2="85.26" y2="646.2" stroke="#000" stroke-width="1.3" />
<text x="85.26" y="656.1" font-size="8" font-weight="bold" text-anchor="middle" fill="#000" stroke="#000" stroke-width="0.15" stroke-linejoin="round" >10</text>
<line x1="113.92" y1="641.4" x2="113.92" y2="646.2" stroke="#000" stroke-width="1.3" />
<text x="113.92" y="656.1" font-size="8" font-weight="bold" text-anchor="middle" fill="#000" stroke="#000" stroke-width="0.15" stroke-linejoin="round" >20</text>
<line x1="142.58" y1="641.4" x2="142.58" y2="646.2" stroke="#000" stroke-width="1.3" />
<text x="142.58" y="656.1" font-size="8" font-weight="bold" text-anchor="middle" fill="#000" stroke="#000" stroke-width="0.15" stroke-linejoin="round" >30</text>
<line x1="171.24" y1="641.4" x2="171.24" y2="646.2" stroke="#000" stroke-width="1.3" />
<text x="171.24" y="656.1" font-size="8" font-weight="bold" text-anchor="middle" fill="#000" stroke="#000" stroke-width="0.15" stroke-linejoin="round" >40</text>
<line x1="199.9" y1="641.4" x2="199.9" y2="646.2" stroke="#000" stroke-width="1.3" />
<text x="199.9" y="656.1" font-size="8" font-weight="bold" text-anchor="middle" fill="#000" stroke="#000" stroke-width="0.15" stroke-linejoin="round" >50</text>
<line x1="228.56" y1="641.4" x2="228.56" y2="646.2" stroke="#000" stroke-width="1.3" />
<text x="228.56" y="656.1" font-size="8" font-weight="bold" text-anchor="middle" fill="#000" stroke="#000" stroke-width="0.15" stroke-linejoin="round" >60</text>
<line x1="257.22" y1="641.4" x2="257.22" y2="646.2" stroke="#000" stroke-width="1.3" />
<text x="257.22" y="656.1" font-size="8" font-weight="bold" text-anchor="middle" fill="#000" stroke="#000" stroke-width="0.15" stroke-linejoin="round" >70</text>
<line x1="70.93" y1="641.4" x2="70.93" y2="644" stroke="#000" stroke-width="1.3" />
<line x1="99.59" y1="641.4" x2="99.59" y2="644" stroke="#000" stroke-width="1.3" />
<line x1="128.25" y1="641.4" x2="128.25" y2="644" stroke="#000" stroke-width="1.3" />
<line x1="156.91" y1="641.4" x2="156.91" y2="644" stroke="#000" stroke-width="1.3" />
<line x1="185.57" y1="641.4" x2="185.57" y2="644" stroke="#000" stroke-width="1.3" />
<line x1="214.23" y1="641.4" x2="214.23" y2="644" stroke="#000" stroke-width="1.3" />
<line x1="242.89" y1="641.4" x2="242.89" y2="644" stroke="#000" stroke-width="1.3" />
<line x1="51.5" y1="641.4" x2="56.6" y2="641.4" stroke="#000" stroke-width="1.3" />
<text x="49.5" y="644.3" font-size="8.1" font-weight="bold" text-anchor="end" fill="#000" stroke="#000" stroke-width="0.15" stroke-linejoin="round" >0</text>
<line x1="51.5" y1="602.8" x2="56.6" y2="602.8" stroke="#000" stroke-width="1.3" />
<text x="49.5" y="605.7" font-size="8.1" font-weight="bold" text-anchor="end" fill="#000" stroke="#000" stroke-width="0.15" stroke-linejoin="round" >500</text>
<line x1="51.5" y1="564.2" x2="56.6" y2="564.2" stroke="#000" stroke-width="1.3" />
<text x="49.5" y="567.1" font-size="8.1" font-weight="bold" text-anchor="end" fill="#000" stroke="#000" stroke-width="0.15" stroke-linejoin="round" >1,000</text>
<line x1="51.5" y1="525.6" x2="56.6" y2="525.6" stroke="#000" stroke-width="1.3" />
<text x="49.5" y="528.5" font-size="8.1" font-weight="bold" text-anchor="end" fill="#000" stroke="#000" stroke-width="0.15" stroke-linejoin="round" >1,500</text>
<line x1="51.5" y1="487" x2="56.6" y2="487" stroke="#000" stroke-width="1.3" />
<text x="49.5" y="489.9" font-size="8.1" font-weight="bold" text-anchor="end" fill="#000" stroke="#000" stroke-width="0.15" stroke-linejoin="round" >2,000</text>
<text x="156" y="671.8" font-size="10.36" font-weight="bold" text-anchor="middle" fill="#000" stroke="#000" stroke-width="0.3" stroke-linejoin="round" >Days of treatment</text>
<text x="18.4" y="565.8" font-size="10.2" font-weight="bold" text-anchor="middle" fill="#000" textLength="132.5" lengthAdjust="spacingAndGlyphs" transform="rotate(-90 18.4 565.8)" stroke="#000" stroke-width="0.3" stroke-linejoin="round" >Mean tumor volume (mm<tspan dy="-4.6" font-size="7.8">3</tspan><tspan dy="4.6">)</tspan></text>
<line x1="96.72" y1="488.5" x2="96.72" y2="641.4" stroke="#707070" stroke-width="0.6" stroke-dasharray="0.7 0.9"/>
<line x1="136.85" y1="499" x2="136.85" y2="641.4" stroke="#707070" stroke-width="0.6" stroke-dasharray="0.7 0.9"/>
<text x="97.4" y="487.1" font-size="4.3" font-weight="normal" text-anchor="start" fill="#333" textLength="46.6" lengthAdjust="spacingAndGlyphs" stroke="#333" stroke-width="0.12" stroke-linejoin="round" >AZD6738 stopped dosing</text>
<text x="139.1" y="497.9" font-size="4.3" font-weight="normal" text-anchor="start" fill="#333" textLength="44.6" lengthAdjust="spacingAndGlyphs" stroke="#333" stroke-width="0.12" stroke-linejoin="round" >Olaparib stopped dosing</text>
<line x1="65.2" y1="627" x2="65.2" y2="629" stroke="#e07070" stroke-width="1" />
<line x1="63.1" y1="627" x2="67.3" y2="627" stroke="#e07070" stroke-width="1" />
<line x1="63.1" y1="629" x2="67.3" y2="629" stroke="#e07070" stroke-width="1" />
<line x1="76.66" y1="624.5" x2="76.66" y2="627.5" stroke="#e07070" stroke-width="1" />
<line x1="74.56" y1="624.5" x2="78.76" y2="624.5" stroke="#e07070" stroke-width="1" />
<line x1="74.56" y1="627.5" x2="78.76" y2="627.5" stroke="#e07070" stroke-width="1" />
<line x1="85.26" y1="625.6" x2="85.26" y2="629.6" stroke="#e07070" stroke-width="1" />
<line x1="83.16" y1="625.6" x2="87.36" y2="625.6" stroke="#e07070" stroke-width="1" />
<line x1="83.16" y1="629.6" x2="87.36" y2="629.6" stroke="#e07070" stroke-width="1" />
<line x1="96.72" y1="635.6" x2="96.72" y2="637.6" stroke="#e07070" stroke-width="1" />
<line x1="94.62" y1="635.6" x2="98.82" y2="635.6" stroke="#e07070" stroke-width="1" />
<line x1="94.62" y1="637.6" x2="98.82" y2="637.6" stroke="#e07070" stroke-width="1" />
<line x1="105.32" y1="640.1" x2="105.32" y2="641.1" stroke="#e07070" stroke-width="1" />
<line x1="103.22" y1="640.1" x2="107.42" y2="640.1" stroke="#e07070" stroke-width="1" />
<line x1="103.22" y1="641.1" x2="107.42" y2="641.1" stroke="#e07070" stroke-width="1" />
<polyline points="56.6,631.3 65.2,628 76.66,626 85.26,627.6 96.72,636.6 105.32,640.6 116.79,641 125.38,641 136.85,641 145.45,641 156.91,641 165.51,641 179.84,641 188.44,641 197.03,641 205.63,641 217.1,640" fill="none" stroke="#c01010" stroke-width="1.45" stroke-linejoin="round"/>
<polygon points="56.6,628.75 58.81,631.3 56.6,633.85 54.39,631.3" fill="#d81818" stroke="#d01010" stroke-width="1"/>
<polygon points="65.2,625.45 67.41,628 65.2,630.55 62.99,628" fill="#d81818" stroke="#d01010" stroke-width="1"/>
<polygon points="76.66,623.45 78.87,626 76.66,628.55 74.45,626" fill="#d81818" stroke="#d01010" stroke-width="1"/>
<polygon points="85.26,625.05 87.47,627.6 85.26,630.15 83.05,627.6" fill="#d81818" stroke="#d01010" stroke-width="1"/>
<polygon points="96.72,634.05 98.93,636.6 96.72,639.15 94.51,636.6" fill="#d81818" stroke="#d01010" stroke-width="1"/>
<polygon points="105.32,638.05 107.53,640.6 105.32,643.15 103.11,640.6" fill="#d81818" stroke="#d01010" stroke-width="1"/>
<polygon points="116.79,638.45 119,641 116.79,643.55 114.58,641" fill="#d81818" stroke="#d01010" stroke-width="1"/>
<polygon points="125.38,638.45 127.59,641 125.38,643.55 123.17,641" fill="#d81818" stroke="#d01010" stroke-width="1"/>
<polygon points="136.85,638.45 139.06,641 136.85,643.55 134.64,641" fill="#d81818" stroke="#d01010" stroke-width="1"/>
<polygon points="145.45,638.45 147.66,641 145.45,643.55 143.24,641" fill="#d81818" stroke="#d01010" stroke-width="1"/>
<polygon points="156.91,638.45 159.12,641 156.91,643.55 154.7,641" fill="#d81818" stroke="#d01010" stroke-width="1"/>
<polygon points="165.51,638.45 167.72,641 165.51,643.55 163.3,641" fill="#d81818" stroke="#d01010" stroke-width="1"/>
<polygon points="179.84,638.45 182.05,641 179.84,643.55 177.63,641" fill="#d81818" stroke="#d01010" stroke-width="1"/>
<polygon points="188.44,638.45 190.65,641 188.44,643.55 186.23,641" fill="#d81818" stroke="#d01010" stroke-width="1"/>
<polygon points="197.03,638.45 199.24,641 197.03,643.55 194.82,641" fill="#d81818" stroke="#d01010" stroke-width="1"/>
<polygon points="205.63,638.45 207.84,641 205.63,643.55 203.42,641" fill="#d81818" stroke="#d01010" stroke-width="1"/>
<polygon points="217.1,637.45 219.31,640 217.1,642.55 214.89,640" fill="#d81818" stroke="#d01010" stroke-width="1"/>
<line x1="65.2" y1="627" x2="65.2" y2="629" stroke="#8080f0" stroke-width="1" />
<line x1="63.1" y1="627" x2="67.3" y2="627" stroke="#8080f0" stroke-width="1" />
<line x1="63.1" y1="629" x2="67.3" y2="629" stroke="#8080f0" stroke-width="1" />
<line x1="76.66" y1="623.9" x2="76.66" y2="626.9" stroke="#8080f0" stroke-width="1" />
<line x1="74.56" y1="623.9" x2="78.76" y2="623.9" stroke="#8080f0" stroke-width="1" />
<line x1="74.56" y1="626.9" x2="78.76" y2="626.9" stroke="#8080f0" stroke-width="1" />
<line x1="85.26" y1="622.1" x2="85.26" y2="626.1" stroke="#8080f0" stroke-width="1" />
<line x1="83.16" y1="622.1" x2="87.36" y2="622.1" stroke="#8080f0" stroke-width="1" />
<line x1="83.16" y1="626.1" x2="87.36" y2="626.1" stroke="#8080f0" stroke-width="1" />
<line x1="96.72" y1="620" x2="96.72" y2="624" stroke="#8080f0" stroke-width="1" />
<line x1="94.62" y1="620" x2="98.82" y2="620" stroke="#8080f0" stroke-width="1" />
<line x1="94.62" y1="624" x2="98.82" y2="624" stroke="#8080f0" stroke-width="1" />
<line x1="105.32" y1="617.1" x2="105.32" y2="623.1" stroke="#8080f0" stroke-width="1" />
<line x1="103.22" y1="617.1" x2="107.42" y2="617.1" stroke="#8080f0" stroke-width="1" />
<line x1="103.22" y1="623.1" x2="107.42" y2="623.1" stroke="#8080f0" stroke-width="1" />
<line x1="116.79" y1="615.3" x2="116.79" y2="622.3" stroke="#8080f0" stroke-width="1" />
<line x1="114.69" y1="615.3" x2="118.89" y2="615.3" stroke="#8080f0" stroke-width="1" />
<line x1="114.69" y1="622.3" x2="118.89" y2="622.3" stroke="#8080f0" stroke-width="1" />
<line x1="125.38" y1="613.4" x2="125.38" y2="621.4" stroke="#8080f0" stroke-width="1" />
<line x1="123.28" y1="613.4" x2="127.48" y2="613.4" stroke="#8080f0" stroke-width="1" />
<line x1="123.28" y1="621.4" x2="127.48" y2="621.4" stroke="#8080f0" stroke-width="1" />
<line x1="136.85" y1="611.9" x2="136.85" y2="621.9" stroke="#8080f0" stroke-width="1" />
<line x1="134.75" y1="611.9" x2="138.95" y2="611.9" stroke="#8080f0" stroke-width="1" />
<line x1="134.75" y1="621.9" x2="138.95" y2="621.9" stroke="#8080f0" stroke-width="1" />
<line x1="145.45" y1="609.4" x2="145.45" y2="617.4" stroke="#8080f0" stroke-width="1" />
<line x1="143.35" y1="609.4" x2="147.55" y2="609.4" stroke="#8080f0" stroke-width="1" />
<line x1="143.35" y1="617.4" x2="147.55" y2="617.4" stroke="#8080f0" stroke-width="1" />
<line x1="156.91" y1="606.3" x2="156.91" y2="616.3" stroke="#8080f0" stroke-width="1" />
<line x1="154.81" y1="606.3" x2="159.01" y2="606.3" stroke="#8080f0" stroke-width="1" />
<line x1="154.81" y1="616.3" x2="159.01" y2="616.3" stroke="#8080f0" stroke-width="1" />
<line x1="165.51" y1="595.6" x2="165.51" y2="611.6" stroke="#8080f0" stroke-width="1" />
<line x1="163.41" y1="595.6" x2="167.61" y2="595.6" stroke="#8080f0" stroke-width="1" />
<line x1="163.41" y1="611.6" x2="167.61" y2="611.6" stroke="#8080f0" stroke-width="1" />
<line x1="179.84" y1="575.7" x2="179.84" y2="600.7" stroke="#8080f0" stroke-width="1" />
<line x1="177.74" y1="575.7" x2="181.94" y2="575.7" stroke="#8080f0" stroke-width="1" />
<line x1="177.74" y1="600.7" x2="181.94" y2="600.7" stroke="#8080f0" stroke-width="1" />
<line x1="188.44" y1="567.8" x2="188.44" y2="597.8" stroke="#8080f0" stroke-width="1" />
<line x1="186.34" y1="567.8" x2="190.54" y2="567.8" stroke="#8080f0" stroke-width="1" />
<line x1="186.34" y1="597.8" x2="190.54" y2="597.8" stroke="#8080f0" stroke-width="1" />
<line x1="197.03" y1="571.1" x2="197.03" y2="596.1" stroke="#8080f0" stroke-width="1" />
<line x1="194.93" y1="571.1" x2="199.13" y2="571.1" stroke="#8080f0" stroke-width="1" />
<line x1="194.93" y1="596.1" x2="199.13" y2="596.1" stroke="#8080f0" stroke-width="1" />
<line x1="205.63" y1="560.4" x2="205.63" y2="590.4" stroke="#8080f0" stroke-width="1" />
<line x1="203.53" y1="560.4" x2="207.73" y2="560.4" stroke="#8080f0" stroke-width="1" />
<line x1="203.53" y1="590.4" x2="207.73" y2="590.4" stroke="#8080f0" stroke-width="1" />
<line x1="217.1" y1="576.2" x2="217.1" y2="584.2" stroke="#8080f0" stroke-width="1" />
<line x1="215" y1="576.2" x2="219.2" y2="576.2" stroke="#8080f0" stroke-width="1" />
<line x1="215" y1="584.2" x2="219.2" y2="584.2" stroke="#8080f0" stroke-width="1" />
<polyline points="56.6,631.3 65.2,628 76.66,625.4 85.26,624.1 96.72,622 105.32,620.1 116.79,618.8 125.38,617.4 136.85,616.9 145.45,613.4 156.91,611.3 165.51,603.6 179.84,588.2 188.44,582.8 197.03,583.6 205.63,575.4 217.1,580.2" fill="none" stroke="#5858f0" stroke-width="1.45" stroke-linejoin="round"/>
<rect x="54.45" y="629.15" width="4.3" height="4.3" fill="#6464f4" stroke="#5858f0" stroke-width="1"/>
<rect x="63.05" y="625.85" width="4.3" height="4.3" fill="#6464f4" stroke="#5858f0" stroke-width="1"/>
<rect x="74.51" y="623.25" width="4.3" height="4.3" fill="#6464f4" stroke="#5858f0" stroke-width="1"/>
<rect x="83.11" y="621.95" width="4.3" height="4.3" fill="#6464f4" stroke="#5858f0" stroke-width="1"/>
<rect x="94.57" y="619.85" width="4.3" height="4.3" fill="#6464f4" stroke="#5858f0" stroke-width="1"/>
<rect x="103.17" y="617.95" width="4.3" height="4.3" fill="#6464f4" stroke="#5858f0" stroke-width="1"/>
<rect x="114.64" y="616.65" width="4.3" height="4.3" fill="#6464f4" stroke="#5858f0" stroke-width="1"/>
<rect x="123.23" y="615.25" width="4.3" height="4.3" fill="#6464f4" stroke="#5858f0" stroke-width="1"/>
<rect x="134.7" y="614.75" width="4.3" height="4.3" fill="#6464f4" stroke="#5858f0" stroke-width="1"/>
<rect x="143.3" y="611.25" width="4.3" height="4.3" fill="#6464f4" stroke="#5858f0" stroke-width="1"/>
<rect x="154.76" y="609.15" width="4.3" height="4.3" fill="#6464f4" stroke="#5858f0" stroke-width="1"/>
<rect x="163.36" y="601.45" width="4.3" height="4.3" fill="#6464f4" stroke="#5858f0" stroke-width="1"/>
<rect x="177.69" y="586.05" width="4.3" height="4.3" fill="#6464f4" stroke="#5858f0" stroke-width="1"/>
<rect x="186.29" y="580.65" width="4.3" height="4.3" fill="#6464f4" stroke="#5858f0" stroke-width="1"/>
<rect x="194.88" y="581.45" width="4.3" height="4.3" fill="#6464f4" stroke="#5858f0" stroke-width="1"/>
<rect x="203.48" y="573.25" width="4.3" height="4.3" fill="#6464f4" stroke="#5858f0" stroke-width="1"/>
<rect x="214.95" y="578.05" width="4.3" height="4.3" fill="#6464f4" stroke="#5858f0" stroke-width="1"/>
<line x1="65.2" y1="627.9" x2="65.2" y2="629.9" stroke="#48c848" stroke-width="1" />
<line x1="63.1" y1="627.9" x2="67.3" y2="627.9" stroke="#48c848" stroke-width="1" />
<line x1="63.1" y1="629.9" x2="67.3" y2="629.9" stroke="#48c848" stroke-width="1" />
<line x1="76.66" y1="621.6" x2="76.66" y2="625.6" stroke="#48c848" stroke-width="1" />
<line x1="74.56" y1="621.6" x2="78.76" y2="621.6" stroke="#48c848" stroke-width="1" />
<line x1="74.56" y1="625.6" x2="78.76" y2="625.6" stroke="#48c848" stroke-width="1" />
<line x1="85.26" y1="615.8" x2="85.26" y2="621.8" stroke="#48c848" stroke-width="1" />
<line x1="83.16" y1="615.8" x2="87.36" y2="615.8" stroke="#48c848" stroke-width="1" />
<line x1="83.16" y1="621.8" x2="87.36" y2="621.8" stroke="#48c848" stroke-width="1" />
<line x1="96.72" y1="608.9" x2="96.72" y2="616.9" stroke="#48c848" stroke-width="1" />
<line x1="94.62" y1="608.9" x2="98.82" y2="608.9" stroke="#48c848" stroke-width="1" />
<line x1="94.62" y1="616.9" x2="98.82" y2="616.9" stroke="#48c848" stroke-width="1" />
<line x1="105.32" y1="607.1" x2="105.32" y2="617.1" stroke="#48c848" stroke-width="1" />
<line x1="103.22" y1="607.1" x2="107.42" y2="607.1" stroke="#48c848" stroke-width="1" />
<line x1="103.22" y1="617.1" x2="107.42" y2="617.1" stroke="#48c848" stroke-width="1" />
<line x1="116.79" y1="601.3" x2="116.79" y2="613.3" stroke="#48c848" stroke-width="1" />
<line x1="114.69" y1="601.3" x2="118.89" y2="601.3" stroke="#48c848" stroke-width="1" />
<line x1="114.69" y1="613.3" x2="118.89" y2="613.3" stroke="#48c848" stroke-width="1" />
<line x1="125.38" y1="598.5" x2="125.38" y2="612.5" stroke="#48c848" stroke-width="1" />
<line x1="123.28" y1="598.5" x2="127.48" y2="598.5" stroke="#48c848" stroke-width="1" />
<line x1="123.28" y1="612.5" x2="127.48" y2="612.5" stroke="#48c848" stroke-width="1" />
<line x1="136.85" y1="595.3" x2="136.85" y2="611.3" stroke="#48c848" stroke-width="1" />
<line x1="134.75" y1="595.3" x2="138.95" y2="595.3" stroke="#48c848" stroke-width="1" />
<line x1="134.75" y1="611.3" x2="138.95" y2="611.3" stroke="#48c848" stroke-width="1" />
<line x1="145.45" y1="589.8" x2="145.45" y2="607.8" stroke="#48c848" stroke-width="1" />
<line x1="143.35" y1="589.8" x2="147.55" y2="589.8" stroke="#48c848" stroke-width="1" />
<line x1="143.35" y1="607.8" x2="147.55" y2="607.8" stroke="#48c848" stroke-width="1" />
<line x1="156.91" y1="581.3" x2="156.91" y2="601.3" stroke="#48c848" stroke-width="1" />
<line x1="154.81" y1="581.3" x2="159.01" y2="581.3" stroke="#48c848" stroke-width="1" />
<line x1="154.81" y1="601.3" x2="159.01" y2="601.3" stroke="#48c848" stroke-width="1" />
<line x1="165.51" y1="573.3" x2="165.51" y2="599.3" stroke="#48c848" stroke-width="1" />
<line x1="163.41" y1="573.3" x2="167.61" y2="573.3" stroke="#48c848" stroke-width="1" />
<line x1="163.41" y1="599.3" x2="167.61" y2="599.3" stroke="#48c848" stroke-width="1" />
<line x1="179.84" y1="574.7" x2="179.84" y2="594.7" stroke="#48c848" stroke-width="1" />
<line x1="177.74" y1="574.7" x2="181.94" y2="574.7" stroke="#48c848" stroke-width="1" />
<line x1="177.74" y1="594.7" x2="181.94" y2="594.7" stroke="#48c848" stroke-width="1" />
<line x1="188.44" y1="560.7" x2="188.44" y2="584.7" stroke="#48c848" stroke-width="1" />
<line x1="186.34" y1="560.7" x2="190.54" y2="560.7" stroke="#48c848" stroke-width="1" />
<line x1="186.34" y1="584.7" x2="190.54" y2="584.7" stroke="#48c848" stroke-width="1" />
<line x1="197.03" y1="545.4" x2="197.03" y2="573.4" stroke="#48c848" stroke-width="1" />
<line x1="194.93" y1="545.4" x2="199.13" y2="545.4" stroke="#48c848" stroke-width="1" />
<line x1="194.93" y1="573.4" x2="199.13" y2="573.4" stroke="#48c848" stroke-width="1" />
<line x1="205.63" y1="536.7" x2="205.63" y2="568.7" stroke="#48c848" stroke-width="1" />
<line x1="203.53" y1="536.7" x2="207.73" y2="536.7" stroke="#48c848" stroke-width="1" />
<line x1="203.53" y1="568.7" x2="207.73" y2="568.7" stroke="#48c848" stroke-width="1" />
<line x1="217.1" y1="537.2" x2="217.1" y2="575.2" stroke="#48c848" stroke-width="1" />
<line x1="215" y1="537.2" x2="219.2" y2="537.2" stroke="#48c848" stroke-width="1" />
<line x1="215" y1="575.2" x2="219.2" y2="575.2" stroke="#48c848" stroke-width="1" />
<polyline points="56.6,631.3 65.2,628.9 76.66,623.6 85.26,618.8 96.72,612.9 105.32,612.1 116.79,607.3 125.38,605.5 136.85,603.3 145.45,598.8 156.91,591.3 165.51,586.3 179.84,584.7 188.44,572.7 197.03,559.4 205.63,552.7 217.1,556.2" fill="none" stroke="#22c022" stroke-width="1.45" stroke-linejoin="round"/>
<polygon points="56.6,628.42 59.24,633.06 53.96,633.06" fill="#eaffe4" stroke="#22c022" stroke-width="1.3" stroke-linejoin="miter"/>
<polygon points="65.2,626.02 67.84,630.66 62.56,630.66" fill="#eaffe4" stroke="#22c022" stroke-width="1.3" stroke-linejoin="miter"/>
<polygon points="76.66,620.72 79.3,625.36 74.02,625.36" fill="#eaffe4" stroke="#22c022" stroke-width="1.3" stroke-linejoin="miter"/>
<polygon points="85.26,615.92 87.9,620.56 82.62,620.56" fill="#eaffe4" stroke="#22c022" stroke-width="1.3" stroke-linejoin="miter"/>
<polygon points="96.72,610.02 99.36,614.66 94.08,614.66" fill="#eaffe4" stroke="#22c022" stroke-width="1.3" stroke-linejoin="miter"/>
<polygon points="105.32,609.22 107.96,613.86 102.68,613.86" fill="#eaffe4" stroke="#22c022" stroke-width="1.3" stroke-linejoin="miter"/>
<polygon points="116.79,604.42 119.43,609.06 114.15,609.06" fill="#eaffe4" stroke="#22c022" stroke-width="1.3" stroke-linejoin="miter"/>
<polygon points="125.38,602.62 128.02,607.26 122.74,607.26" fill="#eaffe4" stroke="#22c022" stroke-width="1.3" stroke-linejoin="miter"/>
<polygon points="136.85,600.42 139.49,605.06 134.21,605.06" fill="#eaffe4" stroke="#22c022" stroke-width="1.3" stroke-linejoin="miter"/>
<polygon points="145.45,595.92 148.09,600.56 142.81,600.56" fill="#eaffe4" stroke="#22c022" stroke-width="1.3" stroke-linejoin="miter"/>
<polygon points="156.91,588.42 159.55,593.06 154.27,593.06" fill="#eaffe4" stroke="#22c022" stroke-width="1.3" stroke-linejoin="miter"/>
<polygon points="165.51,583.42 168.15,588.06 162.87,588.06" fill="#eaffe4" stroke="#22c022" stroke-width="1.3" stroke-linejoin="miter"/>
<polygon points="179.84,581.82 182.48,586.46 177.2,586.46" fill="#eaffe4" stroke="#22c022" stroke-width="1.3" stroke-linejoin="miter"/>
<polygon points="188.44,569.82 191.08,574.46 185.8,574.46" fill="#eaffe4" stroke="#22c022" stroke-width="1.3" stroke-linejoin="miter"/>
<polygon points="197.03,556.52 199.67,561.16 194.39,561.16" fill="#eaffe4" stroke="#22c022" stroke-width="1.3" stroke-linejoin="miter"/>
<polygon points="205.63,549.82 208.27,554.46 202.99,554.46" fill="#eaffe4" stroke="#22c022" stroke-width="1.3" stroke-linejoin="miter"/>
<polygon points="217.1,553.32 219.74,557.96 214.46,557.96" fill="#eaffe4" stroke="#22c022" stroke-width="1.3" stroke-linejoin="miter"/>
<line x1="65.2" y1="626.3" x2="65.2" y2="628.3" stroke="#222" stroke-width="1" />
<line x1="63.1" y1="626.3" x2="67.3" y2="626.3" stroke="#222" stroke-width="1" />
<line x1="63.1" y1="628.3" x2="67.3" y2="628.3" stroke="#222" stroke-width="1" />
<line x1="76.66" y1="618.1" x2="76.66" y2="622.1" stroke="#222" stroke-width="1" />
<line x1="74.56" y1="618.1" x2="78.76" y2="618.1" stroke="#222" stroke-width="1" />
<line x1="74.56" y1="622.1" x2="78.76" y2="622.1" stroke="#222" stroke-width="1" />
<line x1="85.26" y1="607.3" x2="85.26" y2="614.3" stroke="#222" stroke-width="1" />
<line x1="83.16" y1="607.3" x2="87.36" y2="607.3" stroke="#222" stroke-width="1" />
<line x1="83.16" y1="614.3" x2="87.36" y2="614.3" stroke="#222" stroke-width="1" />
<line x1="96.72" y1="598.8" x2="96.72" y2="607.8" stroke="#222" stroke-width="1" />
<line x1="94.62" y1="598.8" x2="98.82" y2="598.8" stroke="#222" stroke-width="1" />
<line x1="94.62" y1="607.8" x2="98.82" y2="607.8" stroke="#222" stroke-width="1" />
<line x1="105.32" y1="588.8" x2="105.32" y2="600.8" stroke="#222" stroke-width="1" />
<line x1="103.22" y1="588.8" x2="107.42" y2="588.8" stroke="#222" stroke-width="1" />
<line x1="103.22" y1="600.8" x2="107.42" y2="600.8" stroke="#222" stroke-width="1" />
<line x1="116.79" y1="577.2" x2="116.79" y2="591.2" stroke="#222" stroke-width="1" />
<line x1="114.69" y1="577.2" x2="118.89" y2="577.2" stroke="#222" stroke-width="1" />
<line x1="114.69" y1="591.2" x2="118.89" y2="591.2" stroke="#222" stroke-width="1" />
<line x1="125.38" y1="568.7" x2="125.38" y2="584.7" stroke="#222" stroke-width="1" />
<line x1="123.28" y1="568.7" x2="127.48" y2="568.7" stroke="#222" stroke-width="1" />
<line x1="123.28" y1="584.7" x2="127.48" y2="584.7" stroke="#222" stroke-width="1" />
<line x1="136.85" y1="557.1" x2="136.85" y2="575.1" stroke="#222" stroke-width="1" />
<line x1="134.75" y1="557.1" x2="138.95" y2="557.1" stroke="#222" stroke-width="1" />
<line x1="134.75" y1="575.1" x2="138.95" y2="575.1" stroke="#222" stroke-width="1" />
<line x1="145.45" y1="561.4" x2="145.45" y2="573.4" stroke="#222" stroke-width="1" />
<line x1="143.35" y1="561.4" x2="147.55" y2="561.4" stroke="#222" stroke-width="1" />
<line x1="143.35" y1="573.4" x2="147.55" y2="573.4" stroke="#222" stroke-width="1" />
<line x1="156.91" y1="546.9" x2="156.91" y2="562.9" stroke="#222" stroke-width="1" />
<line x1="154.81" y1="546.9" x2="159.01" y2="546.9" stroke="#222" stroke-width="1" />
<line x1="154.81" y1="562.9" x2="159.01" y2="562.9" stroke="#222" stroke-width="1" />
<line x1="165.51" y1="540.2" x2="165.51" y2="556.2" stroke="#222" stroke-width="1" />
<line x1="163.41" y1="540.2" x2="167.61" y2="540.2" stroke="#222" stroke-width="1" />
<line x1="163.41" y1="556.2" x2="167.61" y2="556.2" stroke="#222" stroke-width="1" />
<line x1="179.84" y1="527.6" x2="179.84" y2="539.6" stroke="#222" stroke-width="1" />
<line x1="177.74" y1="527.6" x2="181.94" y2="527.6" stroke="#222" stroke-width="1" />
<line x1="177.74" y1="539.6" x2="181.94" y2="539.6" stroke="#222" stroke-width="1" />
<line x1="188.44" y1="504.3" x2="188.44" y2="520.3" stroke="#222" stroke-width="1" />
<line x1="186.34" y1="504.3" x2="190.54" y2="504.3" stroke="#222" stroke-width="1" />
<line x1="186.34" y1="520.3" x2="190.54" y2="520.3" stroke="#222" stroke-width="1" />
<line x1="197.03" y1="498.4" x2="197.03" y2="506.4" stroke="#222" stroke-width="1" />
<line x1="194.93" y1="498.4" x2="199.13" y2="498.4" stroke="#222" stroke-width="1" />
<line x1="194.93" y1="506.4" x2="199.13" y2="506.4" stroke="#222" stroke-width="1" />
<polyline points="56.6,631.3 65.2,627.3 76.66,620.1 85.26,610.8 96.72,603.3 105.32,594.8 116.79,584.2 125.38,576.7 136.85,566.1 145.45,567.4 156.91,554.9 165.51,548.2 179.84,533.6 188.44,512.3 197.03,502.4" fill="none" stroke="#000" stroke-width="1.45" stroke-linejoin="round"/>
<circle cx="56.6" cy="631.3" r="2.85" fill="#000"/>
<circle cx="65.2" cy="627.3" r="2.85" fill="#000"/>
<circle cx="76.66" cy="620.1" r="2.85" fill="#000"/>
<circle cx="85.26" cy="610.8" r="2.85" fill="#000"/>
<circle cx="96.72" cy="603.3" r="2.85" fill="#000"/>
<circle cx="105.32" cy="594.8" r="2.85" fill="#000"/>
<circle cx="116.79" cy="584.2" r="2.85" fill="#000"/>
<circle cx="125.38" cy="576.7" r="2.85" fill="#000"/>
<circle cx="136.85" cy="566.1" r="2.85" fill="#000"/>
<circle cx="145.45" cy="567.4" r="2.85" fill="#000"/>
<circle cx="156.91" cy="554.9" r="2.85" fill="#000"/>
<circle cx="165.51" cy="548.2" r="2.85" fill="#000"/>
<circle cx="179.84" cy="533.6" r="2.85" fill="#000"/>
<circle cx="188.44" cy="512.3" r="2.85" fill="#000"/>
<circle cx="197.03" cy="502.4" r="2.85" fill="#000"/>
<text x="136.8" y="596.6" font-size="8.7" font-weight="bold" text-anchor="middle" fill="#111" >**</text>
<text x="137" y="615" font-size="8.7" font-weight="bold" text-anchor="middle" fill="#111" >***</text>
<text x="136.8" y="639.3" font-size="8.7" font-weight="bold" text-anchor="middle" fill="#111" >***</text>
<text x="296.8" y="533.15" font-size="5.5" font-weight="bold" text-anchor="end" fill="#5252e0" stroke="#5252e0" stroke-width="0.15" stroke-linejoin="round" >AZD6738</text>
<text x="296.8" y="538" font-size="5.5" font-weight="bold" text-anchor="end" fill="#28b25a" stroke="#28b25a" stroke-width="0.15" stroke-linejoin="round" >Olaparib</text>
<rect x="295" y="529.1" width="40.1" height="9.9" fill="#fff"/>
<line x1="295.62" y1="529.1" x2="295.62" y2="539" stroke="#383838" stroke-width="1.25" />
<line x1="301.18" y1="529.1" x2="301.18" y2="539" stroke="#383838" stroke-width="1.25" />
<line x1="306.73" y1="529.1" x2="306.73" y2="539" stroke="#383838" stroke-width="1.25" />
<line x1="312.27" y1="529.1" x2="312.27" y2="539" stroke="#383838" stroke-width="1.25" />
<line x1="317.82" y1="529.1" x2="317.82" y2="539" stroke="#383838" stroke-width="1.25" />
<line x1="323.38" y1="529.1" x2="323.38" y2="539" stroke="#383838" stroke-width="1.25" />
<line x1="328.93" y1="529.1" x2="328.93" y2="539" stroke="#383838" stroke-width="1.25" />
<line x1="334.48" y1="529.1" x2="334.48" y2="539" stroke="#383838" stroke-width="1.25" />
<line x1="295" y1="529.73" x2="335.1" y2="529.73" stroke="#383838" stroke-width="1.25" />
<line x1="295" y1="534.05" x2="335.1" y2="534.05" stroke="#383838" stroke-width="1.25" />
<line x1="295" y1="538.38" x2="335.1" y2="538.38" stroke="#383838" stroke-width="1.25" />
<text x="296.8" y="549.35" font-size="5.5" font-weight="bold" text-anchor="end" fill="#5252e0" stroke="#5252e0" stroke-width="0.15" stroke-linejoin="round" >AZD6738</text>
<text x="296.8" y="554.2" font-size="5.5" font-weight="bold" text-anchor="end" fill="#28b25a" stroke="#28b25a" stroke-width="0.15" stroke-linejoin="round" >Olaparib</text>
<rect x="295" y="545.3" width="40.1" height="9.9" fill="#fff"/>
<line x1="295.62" y1="545.3" x2="295.62" y2="555.2" stroke="#383838" stroke-width="1.25" />
<line x1="301.18" y1="545.3" x2="301.18" y2="555.2" stroke="#383838" stroke-width="1.25" />
<line x1="306.73" y1="545.3" x2="306.73" y2="555.2" stroke="#383838" stroke-width="1.25" />
<line x1="312.27" y1="545.3" x2="312.27" y2="555.2" stroke="#383838" stroke-width="1.25" />
<line x1="317.82" y1="545.3" x2="317.82" y2="555.2" stroke="#383838" stroke-width="1.25" />
<line x1="323.38" y1="545.3" x2="323.38" y2="555.2" stroke="#383838" stroke-width="1.25" />
<line x1="328.93" y1="545.3" x2="328.93" y2="555.2" stroke="#383838" stroke-width="1.25" />
<line x1="334.48" y1="545.3" x2="334.48" y2="555.2" stroke="#383838" stroke-width="1.25" />
<line x1="295" y1="545.92" x2="335.1" y2="545.92" stroke="#383838" stroke-width="1.25" />
<line x1="295" y1="550.25" x2="335.1" y2="550.25" stroke="#383838" stroke-width="1.25" />
<line x1="295" y1="554.57" x2="335.1" y2="554.57" stroke="#383838" stroke-width="1.25" />
<rect x="295" y="545.3" width="40.1" height="5.58" fill="#3838d0"/>
<rect x="296.55" y="546.75" width="3.7" height="2.68" fill="#6464f0"/>
<rect x="302.1" y="546.75" width="3.7" height="2.68" fill="#6464f0"/>
<rect x="307.65" y="546.75" width="3.7" height="2.68" fill="#6464f0"/>
<rect x="313.2" y="546.75" width="3.7" height="2.68" fill="#6464f0"/>
<rect x="318.75" y="546.75" width="3.7" height="2.68" fill="#6464f0"/>
<rect x="324.3" y="546.75" width="3.7" height="2.68" fill="#6464f0"/>
<rect x="329.85" y="546.75" width="3.7" height="2.68" fill="#6464f0"/>
<text x="296.8" y="567.15" font-size="5.5" font-weight="bold" text-anchor="end" fill="#5252e0" stroke="#5252e0" stroke-width="0.15" stroke-linejoin="round" >AZD6738</text>
<text x="296.8" y="572" font-size="5.5" font-weight="bold" text-anchor="end" fill="#28b25a" stroke="#28b25a" stroke-width="0.15" stroke-linejoin="round" >Olaparib</text>
<rect x="295" y="563.1" width="40.1" height="9.9" fill="#fff"/>
<line x1="295.62" y1="563.1" x2="295.62" y2="573" stroke="#383838" stroke-width="1.25" />
<line x1="301.18" y1="563.1" x2="301.18" y2="573" stroke="#383838" stroke-width="1.25" />
<line x1="306.73" y1="563.1" x2="306.73" y2="573" stroke="#383838" stroke-width="1.25" />
<line x1="312.27" y1="563.1" x2="312.27" y2="573" stroke="#383838" stroke-width="1.25" />
<line x1="317.82" y1="563.1" x2="317.82" y2="573" stroke="#383838" stroke-width="1.25" />
<line x1="323.38" y1="563.1" x2="323.38" y2="573" stroke="#383838" stroke-width="1.25" />
<line x1="328.93" y1="563.1" x2="328.93" y2="573" stroke="#383838" stroke-width="1.25" />
<line x1="334.48" y1="563.1" x2="334.48" y2="573" stroke="#383838" stroke-width="1.25" />
<line x1="295" y1="563.73" x2="335.1" y2="563.73" stroke="#383838" stroke-width="1.25" />
<line x1="295" y1="568.05" x2="335.1" y2="568.05" stroke="#383838" stroke-width="1.25" />
<line x1="295" y1="572.38" x2="335.1" y2="572.38" stroke="#383838" stroke-width="1.25" />
<rect x="295" y="567.43" width="40.1" height="5.58" fill="#2c3a1c"/>
<rect x="296.55" y="568.88" width="3.7" height="2.68" fill="#42562c"/>
<rect x="302.1" y="568.88" width="3.7" height="2.68" fill="#42562c"/>
<rect x="307.65" y="568.88" width="3.7" height="2.68" fill="#42562c"/>
<rect x="313.2" y="568.88" width="3.7" height="2.68" fill="#42562c"/>
<rect x="318.75" y="568.88" width="3.7" height="2.68" fill="#42562c"/>
<rect x="324.3" y="568.88" width="3.7" height="2.68" fill="#42562c"/>
<rect x="329.85" y="568.88" width="3.7" height="2.68" fill="#42562c"/>
<text x="296.8" y="588.35" font-size="5.5" font-weight="bold" text-anchor="end" fill="#5252e0" stroke="#5252e0" stroke-width="0.15" stroke-linejoin="round" >AZD6738</text>
<text x="296.8" y="593.2" font-size="5.5" font-weight="bold" text-anchor="end" fill="#28b25a" stroke="#28b25a" stroke-width="0.15" stroke-linejoin="round" >Olaparib</text>
<rect x="295" y="584.3" width="40.1" height="9.9" fill="#fff"/>
<line x1="295.62" y1="584.3" x2="295.62" y2="594.2" stroke="#383838" stroke-width="1.25" />
<line x1="301.18" y1="584.3" x2="301.18" y2="594.2" stroke="#383838" stroke-width="1.25" />
<line x1="306.73" y1="584.3" x2="306.73" y2="594.2" stroke="#383838" stroke-width="1.25" />
<line x1="312.27" y1="584.3" x2="312.27" y2="594.2" stroke="#383838" stroke-width="1.25" />
<line x1="317.82" y1="584.3" x2="317.82" y2="594.2" stroke="#383838" stroke-width="1.25" />
<line x1="323.38" y1="584.3" x2="323.38" y2="594.2" stroke="#383838" stroke-width="1.25" />
<line x1="328.93" y1="584.3" x2="328.93" y2="594.2" stroke="#383838" stroke-width="1.25" />
<line x1="334.48" y1="584.3" x2="334.48" y2="594.2" stroke="#383838" stroke-width="1.25" />
<line x1="295" y1="584.92" x2="335.1" y2="584.92" stroke="#383838" stroke-width="1.25" />
<line x1="295" y1="589.25" x2="335.1" y2="589.25" stroke="#383838" stroke-width="1.25" />
<line x1="295" y1="593.57" x2="335.1" y2="593.57" stroke="#383838" stroke-width="1.25" />
<rect x="295" y="584.3" width="40.1" height="5.58" fill="#3838d0"/>
<rect x="296.55" y="585.75" width="3.7" height="2.68" fill="#6464f0"/>
<rect x="302.1" y="585.75" width="3.7" height="2.68" fill="#6464f0"/>
<rect x="307.65" y="585.75" width="3.7" height="2.68" fill="#6464f0"/>
<rect x="313.2" y="585.75" width="3.7" height="2.68" fill="#6464f0"/>
<rect x="318.75" y="585.75" width="3.7" height="2.68" fill="#6464f0"/>
<rect x="324.3" y="585.75" width="3.7" height="2.68" fill="#6464f0"/>
<rect x="329.85" y="585.75" width="3.7" height="2.68" fill="#6464f0"/>
<rect x="295" y="588.62" width="40.1" height="5.58" fill="#2c3a1c"/>
<rect x="296.55" y="590.08" width="3.7" height="2.68" fill="#42562c"/>
<rect x="302.1" y="590.08" width="3.7" height="2.68" fill="#42562c"/>
<rect x="307.65" y="590.08" width="3.7" height="2.68" fill="#42562c"/>
<rect x="313.2" y="590.08" width="3.7" height="2.68" fill="#42562c"/>
<rect x="318.75" y="590.08" width="3.7" height="2.68" fill="#42562c"/>
<rect x="324.3" y="590.08" width="3.7" height="2.68" fill="#42562c"/>
<rect x="329.85" y="590.08" width="3.7" height="2.68" fill="#42562c"/>
<line x1="339.5" y1="532.5" x2="352.5" y2="532.5" stroke="#000" stroke-width="1.3" />
<circle cx="346" cy="532.5" r="2.85" fill="#000"/>
<line x1="339.5" y1="550.5" x2="352.5" y2="550.5" stroke="#5858f0" stroke-width="1.3" />
<rect x="344.06" y="548.57" width="3.87" height="3.87" fill="#6464f4" stroke="#5858f0" stroke-width="1"/>
<line x1="339.5" y1="568.4" x2="352.5" y2="568.4" stroke="#22c022" stroke-width="1.5" />
<polygon points="346,565.52 348.64,570.16 343.36,570.16" fill="none" stroke="#22c022" stroke-width="1.3" stroke-linejoin="miter"/>
<line x1="339.5" y1="590.8" x2="352.5" y2="590.8" stroke="#d01010" stroke-width="1.3" />
<polygon points="346,588.25 348.21,590.8 346,593.35 343.79,590.8" fill="#d81818" stroke="#d01010" stroke-width="1"/>
<text x="360.6" y="534.9" font-size="6.8" font-weight="normal" text-anchor="start" fill="#000" stroke="#000" stroke-width="0.12" stroke-linejoin="round" >Vehicle control</text>
<text x="360.6" y="552.9" font-size="6.8" font-weight="normal" text-anchor="start" fill="#000" stroke="#000" stroke-width="0.12" stroke-linejoin="round" >AZD6738 12.5 mg/kg (bidx22) continuous</text>
<text x="360.6" y="570.4" font-size="6.8" font-weight="normal" text-anchor="start" fill="#000" stroke="#000" stroke-width="0.12" stroke-linejoin="round" >Olaparib 100 mg/kg (qdx28) continous</text>
<text x="360.6" y="587.9" font-size="6.8" font-weight="normal" text-anchor="start" fill="#000" stroke="#000" stroke-width="0.12" stroke-linejoin="round" >Olaparib 100 mg/kg (qdx28)</text>
<text x="360.6" y="596.6" font-size="6.8" font-weight="normal" text-anchor="start" fill="#000" stroke="#000" stroke-width="0.12" stroke-linejoin="round" >+ AZD6738 12.5 mg/kg (bidx14) D1-14</text>
</g>
</svg>
</body></html>
